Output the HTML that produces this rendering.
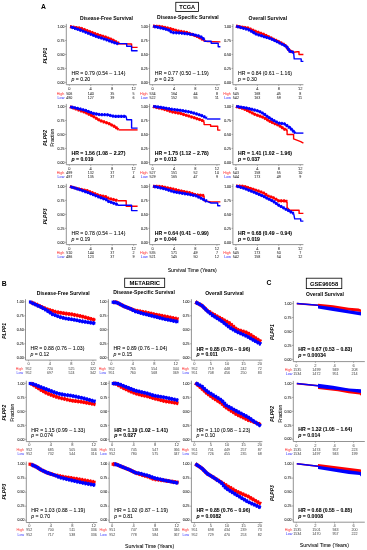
<!DOCTYPE html>
<html><head><meta charset="utf-8"><style>
html,body{margin:0;padding:0;background:#fff;}
body{width:367px;height:550px;overflow:hidden;}
svg{display:block;font-family:'Liberation Sans', sans-serif;filter:blur(0.3px);}
</style></head><body>
<svg width="367" height="550" viewBox="0 0 367 550">
<rect width="367" height="550" fill="#fff"/>
<path d="M66.30 23.90V84.70H136.80" fill="none" stroke="#777" stroke-width="0.8"/>
<path d="M65.00 26.50H66.30M65.00 40.48H66.30M65.00 54.45H66.30M65.00 68.43H66.30M65.00 82.40H66.30M69.30 84.70V85.90M90.74 84.70V85.90M112.18 84.70V85.90M133.62 84.70V85.90" stroke="#777" stroke-width="0.6"/>
<text x="64.40" y="27.73" font-size="3.5" text-anchor="end" fill="#222" stroke="#222" stroke-width="0.07">1.00</text>
<text x="64.40" y="41.70" font-size="3.5" text-anchor="end" fill="#222" stroke="#222" stroke-width="0.07">0.75</text>
<text x="64.40" y="55.68" font-size="3.5" text-anchor="end" fill="#222" stroke="#222" stroke-width="0.07">0.50</text>
<text x="64.40" y="69.65" font-size="3.5" text-anchor="end" fill="#222" stroke="#222" stroke-width="0.07">0.25</text>
<text x="64.40" y="83.62" font-size="3.5" text-anchor="end" fill="#222" stroke="#222" stroke-width="0.07">0.00</text>
<text x="69.30" y="89.80" font-size="4.0" text-anchor="middle" fill="#2a2a2a" stroke="#2a2a2a" stroke-width="0.02">0</text>
<text x="90.74" y="89.80" font-size="4.0" text-anchor="middle" fill="#2a2a2a" stroke="#2a2a2a" stroke-width="0.02">4</text>
<text x="112.18" y="89.80" font-size="4.0" text-anchor="middle" fill="#2a2a2a" stroke="#2a2a2a" stroke-width="0.02">8</text>
<text x="133.62" y="89.80" font-size="4.0" text-anchor="middle" fill="#2a2a2a" stroke="#2a2a2a" stroke-width="0.02">12</text>
<text x="64.30" y="94.70" font-size="3.7" text-anchor="end" fill="#f33" stroke="#f33" stroke-width="0.02">High</text>
<text x="64.30" y="99.00" font-size="3.7" text-anchor="end" fill="#33f" stroke="#33f" stroke-width="0.02">Low</text>
<text x="69.30" y="94.70" font-size="3.7" text-anchor="middle" fill="#2a2a2a" stroke="#2a2a2a" stroke-width="0.02">506</text>
<text x="69.30" y="99.00" font-size="3.7" text-anchor="middle" fill="#2a2a2a" stroke="#2a2a2a" stroke-width="0.02">490</text>
<text x="90.74" y="94.70" font-size="3.7" text-anchor="middle" fill="#2a2a2a" stroke="#2a2a2a" stroke-width="0.02">140</text>
<text x="90.74" y="99.00" font-size="3.7" text-anchor="middle" fill="#2a2a2a" stroke="#2a2a2a" stroke-width="0.02">127</text>
<text x="112.18" y="94.70" font-size="3.7" text-anchor="middle" fill="#2a2a2a" stroke="#2a2a2a" stroke-width="0.02">35</text>
<text x="112.18" y="99.00" font-size="3.7" text-anchor="middle" fill="#2a2a2a" stroke="#2a2a2a" stroke-width="0.02">39</text>
<text x="133.62" y="94.70" font-size="3.7" text-anchor="middle" fill="#2a2a2a" stroke="#2a2a2a" stroke-width="0.02">5</text>
<text x="133.62" y="99.00" font-size="3.7" text-anchor="middle" fill="#2a2a2a" stroke="#2a2a2a" stroke-width="0.02">6</text>
<path d="M70.00 26.60 L81.30 28.40 L96.50 34.20 L106.00 37.30 L111.80 39.50 L116.00 41.80 L119.00 43.50" fill="none" stroke="#ff0000" stroke-width="2.1" stroke-linejoin="round" stroke-linecap="butt"/>
<path d="M70.00 26.60 L81.30 28.40 L96.50 34.20 L106.00 37.30 L111.80 39.50 L116.00 41.80 L119.00 43.50" fill="none" stroke="#ff0000" stroke-width="3.2" stroke-dasharray="1.6 1.2" stroke-dashoffset="0" stroke-linejoin="round" stroke-linecap="butt"/>
<path d="M118.00 43.70 L131.60 44.00 L131.60 47.40 L137.60 47.40" fill="none" stroke="#ff0000" stroke-width="1.4" stroke-linejoin="round" stroke-linecap="butt"/>
<path d="M70.40 26.80 L81.30 30.40 L96.50 36.50 L106.00 39.60 L111.80 41.80 L116.00 43.30 L118.00 43.60" fill="none" stroke="#0000ff" stroke-width="2.1" stroke-linejoin="round" stroke-linecap="butt"/>
<path d="M70.40 26.80 L81.30 30.40 L96.50 36.50 L106.00 39.60 L111.80 41.80 L116.00 43.30 L118.00 43.60" fill="none" stroke="#0000ff" stroke-width="3.2" stroke-dasharray="1.6 1.2" stroke-dashoffset="1.4" stroke-linejoin="round" stroke-linecap="butt"/>
<path d="M118.00 43.60 L126.70 43.60 L126.70 46.30 L131.60 46.30 L131.60 50.70 L137.60 50.70" fill="none" stroke="#0000ff" stroke-width="1.4" stroke-linejoin="round" stroke-linecap="butt"/>
<text x="71.50" y="75.00" font-size="5.15" stroke="#000" stroke-width="0.05">HR = 0.79 (0.54 – 1.14)</text>
<text x="71.50" y="80.80" font-size="5.15" stroke="#000" stroke-width="0.05"><tspan font-style="italic">p</tspan> = 0.20</text>
<text transform="translate(45.00,55.60) rotate(-90)" x="0" y="1.75" font-size="5.0" text-anchor="middle" font-weight="bold" font-style="italic">PLPP1</text>
<path d="M149.60 23.90V84.70H220.10" fill="none" stroke="#777" stroke-width="0.8"/>
<path d="M148.30 26.50H149.60M148.30 40.48H149.60M148.30 54.45H149.60M148.30 68.43H149.60M148.30 82.40H149.60M152.60 84.70V85.90M174.04 84.70V85.90M195.48 84.70V85.90M216.92 84.70V85.90" stroke="#777" stroke-width="0.6"/>
<text x="147.70" y="27.73" font-size="3.5" text-anchor="end" fill="#222" stroke="#222" stroke-width="0.07">1.00</text>
<text x="147.70" y="41.70" font-size="3.5" text-anchor="end" fill="#222" stroke="#222" stroke-width="0.07">0.75</text>
<text x="147.70" y="55.68" font-size="3.5" text-anchor="end" fill="#222" stroke="#222" stroke-width="0.07">0.50</text>
<text x="147.70" y="69.65" font-size="3.5" text-anchor="end" fill="#222" stroke="#222" stroke-width="0.07">0.25</text>
<text x="147.70" y="83.62" font-size="3.5" text-anchor="end" fill="#222" stroke="#222" stroke-width="0.07">0.00</text>
<text x="152.60" y="89.80" font-size="4.0" text-anchor="middle" fill="#2a2a2a" stroke="#2a2a2a" stroke-width="0.02">0</text>
<text x="174.04" y="89.80" font-size="4.0" text-anchor="middle" fill="#2a2a2a" stroke="#2a2a2a" stroke-width="0.02">4</text>
<text x="195.48" y="89.80" font-size="4.0" text-anchor="middle" fill="#2a2a2a" stroke="#2a2a2a" stroke-width="0.02">8</text>
<text x="216.92" y="89.80" font-size="4.0" text-anchor="middle" fill="#2a2a2a" stroke="#2a2a2a" stroke-width="0.02">12</text>
<text x="147.60" y="94.70" font-size="3.7" text-anchor="end" fill="#f33" stroke="#f33" stroke-width="0.02">High</text>
<text x="147.60" y="99.00" font-size="3.7" text-anchor="end" fill="#33f" stroke="#33f" stroke-width="0.02">Low</text>
<text x="152.60" y="94.70" font-size="3.7" text-anchor="middle" fill="#2a2a2a" stroke="#2a2a2a" stroke-width="0.02">534</text>
<text x="152.60" y="99.00" font-size="3.7" text-anchor="middle" fill="#2a2a2a" stroke="#2a2a2a" stroke-width="0.02">522</text>
<text x="174.04" y="94.70" font-size="3.7" text-anchor="middle" fill="#2a2a2a" stroke="#2a2a2a" stroke-width="0.02">164</text>
<text x="174.04" y="99.00" font-size="3.7" text-anchor="middle" fill="#2a2a2a" stroke="#2a2a2a" stroke-width="0.02">152</text>
<text x="195.48" y="94.70" font-size="3.7" text-anchor="middle" fill="#2a2a2a" stroke="#2a2a2a" stroke-width="0.02">44</text>
<text x="195.48" y="99.00" font-size="3.7" text-anchor="middle" fill="#2a2a2a" stroke="#2a2a2a" stroke-width="0.02">55</text>
<text x="216.92" y="94.70" font-size="3.7" text-anchor="middle" fill="#2a2a2a" stroke="#2a2a2a" stroke-width="0.02">8</text>
<text x="216.92" y="99.00" font-size="3.7" text-anchor="middle" fill="#2a2a2a" stroke="#2a2a2a" stroke-width="0.02">11</text>
<path d="M153.00 26.10 L160.90 26.60 L170.70 28.80 L178.30 31.00 L187.00 32.50 L195.90 35.90 L202.40 39.20 L204.60 40.30" fill="none" stroke="#ff0000" stroke-width="2.1" stroke-linejoin="round" stroke-linecap="butt"/>
<path d="M153.00 26.10 L160.90 26.60 L170.70 28.80 L178.30 31.00 L187.00 32.50 L195.90 35.90 L202.40 39.20 L204.60 40.30" fill="none" stroke="#ff0000" stroke-width="3.2" stroke-dasharray="1.6 1.2" stroke-dashoffset="0" stroke-linejoin="round" stroke-linecap="butt"/>
<path d="M204.60 40.30 L206.80 41.50 L220.40 41.90" fill="none" stroke="#ff0000" stroke-width="1.4" stroke-linejoin="round" stroke-linecap="butt"/>
<path d="M153.00 26.30 L165.30 28.90 L169.00 30.20 L172.00 32.50 L180.50 33.00 L192.70 34.50 L198.00 35.80 L201.90 37.30 L204.60 40.00" fill="none" stroke="#0000ff" stroke-width="2.1" stroke-linejoin="round" stroke-linecap="butt"/>
<path d="M153.00 26.30 L165.30 28.90 L169.00 30.20 L172.00 32.50 L180.50 33.00 L192.70 34.50 L198.00 35.80 L201.90 37.30 L204.60 40.00" fill="none" stroke="#0000ff" stroke-width="3.2" stroke-dasharray="1.6 1.2" stroke-dashoffset="1.4" stroke-linejoin="round" stroke-linecap="butt"/>
<path d="M204.60 40.50 L204.60 41.30 L211.20 41.30 L211.20 43.20 L218.20 43.20 L218.20 46.80 L220.40 46.80" fill="none" stroke="#0000ff" stroke-width="1.4" stroke-linejoin="round" stroke-linecap="butt"/>
<text x="154.80" y="75.00" font-size="5.15" stroke="#000" stroke-width="0.05">HR = 0.77 (0.50 – 1.19)</text>
<text x="154.80" y="80.80" font-size="5.15" stroke="#000" stroke-width="0.05"><tspan font-style="italic">p</tspan> = 0.23</text>
<path d="M232.90 23.90V84.70H303.40" fill="none" stroke="#777" stroke-width="0.8"/>
<path d="M231.60 26.50H232.90M231.60 40.48H232.90M231.60 54.45H232.90M231.60 68.43H232.90M231.60 82.40H232.90M235.90 84.70V85.90M257.34 84.70V85.90M278.78 84.70V85.90M300.22 84.70V85.90" stroke="#777" stroke-width="0.6"/>
<text x="231.00" y="27.73" font-size="3.5" text-anchor="end" fill="#222" stroke="#222" stroke-width="0.07">1.00</text>
<text x="231.00" y="41.70" font-size="3.5" text-anchor="end" fill="#222" stroke="#222" stroke-width="0.07">0.75</text>
<text x="231.00" y="55.68" font-size="3.5" text-anchor="end" fill="#222" stroke="#222" stroke-width="0.07">0.50</text>
<text x="231.00" y="69.65" font-size="3.5" text-anchor="end" fill="#222" stroke="#222" stroke-width="0.07">0.25</text>
<text x="231.00" y="83.62" font-size="3.5" text-anchor="end" fill="#222" stroke="#222" stroke-width="0.07">0.00</text>
<text x="235.90" y="89.80" font-size="4.0" text-anchor="middle" fill="#2a2a2a" stroke="#2a2a2a" stroke-width="0.02">0</text>
<text x="257.34" y="89.80" font-size="4.0" text-anchor="middle" fill="#2a2a2a" stroke="#2a2a2a" stroke-width="0.02">4</text>
<text x="278.78" y="89.80" font-size="4.0" text-anchor="middle" fill="#2a2a2a" stroke="#2a2a2a" stroke-width="0.02">8</text>
<text x="300.22" y="89.80" font-size="4.0" text-anchor="middle" fill="#2a2a2a" stroke="#2a2a2a" stroke-width="0.02">12</text>
<text x="230.90" y="94.70" font-size="3.7" text-anchor="end" fill="#f33" stroke="#f33" stroke-width="0.02">High</text>
<text x="230.90" y="99.00" font-size="3.7" text-anchor="end" fill="#33f" stroke="#33f" stroke-width="0.02">Low</text>
<text x="235.90" y="94.70" font-size="3.7" text-anchor="middle" fill="#2a2a2a" stroke="#2a2a2a" stroke-width="0.02">545</text>
<text x="235.90" y="99.00" font-size="3.7" text-anchor="middle" fill="#2a2a2a" stroke="#2a2a2a" stroke-width="0.02">542</text>
<text x="257.34" y="94.70" font-size="3.7" text-anchor="middle" fill="#2a2a2a" stroke="#2a2a2a" stroke-width="0.02">168</text>
<text x="257.34" y="99.00" font-size="3.7" text-anchor="middle" fill="#2a2a2a" stroke="#2a2a2a" stroke-width="0.02">163</text>
<text x="278.78" y="94.70" font-size="3.7" text-anchor="middle" fill="#2a2a2a" stroke="#2a2a2a" stroke-width="0.02">45</text>
<text x="278.78" y="99.00" font-size="3.7" text-anchor="middle" fill="#2a2a2a" stroke="#2a2a2a" stroke-width="0.02">59</text>
<text x="300.22" y="94.70" font-size="3.7" text-anchor="middle" fill="#2a2a2a" stroke="#2a2a2a" stroke-width="0.02">8</text>
<text x="300.22" y="99.00" font-size="3.7" text-anchor="middle" fill="#2a2a2a" stroke="#2a2a2a" stroke-width="0.02">11</text>
<path d="M236.00 26.10 L248.30 28.10 L255.90 31.50 L263.50 34.20 L271.10 38.00 L278.80 41.80 L284.90 44.90 L289.80 51.00 L293.60 52.30" fill="none" stroke="#ff0000" stroke-width="2.1" stroke-linejoin="round" stroke-linecap="butt"/>
<path d="M236.00 26.10 L248.30 28.10 L255.90 31.50 L263.50 34.20 L271.10 38.00 L278.80 41.80 L284.90 44.90 L289.80 51.00 L293.60 52.30" fill="none" stroke="#ff0000" stroke-width="3.2" stroke-dasharray="1.6 1.2" stroke-dashoffset="0" stroke-linejoin="round" stroke-linecap="butt"/>
<path d="M293.60 52.30 L297.40 51.80 L299.00 51.80 L299.00 54.50 L303.40 54.50" fill="none" stroke="#ff0000" stroke-width="1.4" stroke-linejoin="round" stroke-linecap="butt"/>
<path d="M236.00 26.30 L248.30 29.60 L252.00 31.50 L255.90 34.00 L263.50 36.50 L271.10 38.80 L278.80 42.60 L286.40 46.40 L289.80 51.30 L293.60 52.30" fill="none" stroke="#0000ff" stroke-width="2.1" stroke-linejoin="round" stroke-linecap="butt"/>
<path d="M236.00 26.30 L248.30 29.60 L252.00 31.50 L255.90 34.00 L263.50 36.50 L271.10 38.80 L278.80 42.60 L286.40 46.40 L289.80 51.30 L293.60 52.30" fill="none" stroke="#0000ff" stroke-width="3.2" stroke-dasharray="1.6 1.2" stroke-dashoffset="1.4" stroke-linejoin="round" stroke-linecap="butt"/>
<path d="M293.60 52.30 L294.20 58.90 L301.20 58.90 L301.20 61.40 L303.40 61.40" fill="none" stroke="#0000ff" stroke-width="1.4" stroke-linejoin="round" stroke-linecap="butt"/>
<text x="238.10" y="75.00" font-size="5.15" stroke="#000" stroke-width="0.05">HR = 0.84 (0.61 – 1.16)</text>
<text x="238.10" y="80.80" font-size="5.15" stroke="#000" stroke-width="0.05"><tspan font-style="italic">p</tspan> = 0.30</text>
<path d="M66.30 103.90V164.70H136.80" fill="none" stroke="#777" stroke-width="0.8"/>
<path d="M65.00 106.50H66.30M65.00 120.47H66.30M65.00 134.45H66.30M65.00 148.43H66.30M65.00 162.40H66.30M69.30 164.70V165.90M90.74 164.70V165.90M112.18 164.70V165.90M133.62 164.70V165.90" stroke="#777" stroke-width="0.6"/>
<text x="64.40" y="107.72" font-size="3.5" text-anchor="end" fill="#222" stroke="#222" stroke-width="0.07">1.00</text>
<text x="64.40" y="121.70" font-size="3.5" text-anchor="end" fill="#222" stroke="#222" stroke-width="0.07">0.75</text>
<text x="64.40" y="135.67" font-size="3.5" text-anchor="end" fill="#222" stroke="#222" stroke-width="0.07">0.50</text>
<text x="64.40" y="149.65" font-size="3.5" text-anchor="end" fill="#222" stroke="#222" stroke-width="0.07">0.25</text>
<text x="64.40" y="163.62" font-size="3.5" text-anchor="end" fill="#222" stroke="#222" stroke-width="0.07">0.00</text>
<text x="69.30" y="169.70" font-size="4.0" text-anchor="middle" fill="#2a2a2a" stroke="#2a2a2a" stroke-width="0.02">0</text>
<text x="90.74" y="169.70" font-size="4.0" text-anchor="middle" fill="#2a2a2a" stroke="#2a2a2a" stroke-width="0.02">4</text>
<text x="112.18" y="169.70" font-size="4.0" text-anchor="middle" fill="#2a2a2a" stroke="#2a2a2a" stroke-width="0.02">8</text>
<text x="133.62" y="169.70" font-size="4.0" text-anchor="middle" fill="#2a2a2a" stroke="#2a2a2a" stroke-width="0.02">12</text>
<text x="64.30" y="173.50" font-size="3.7" text-anchor="end" fill="#f33" stroke="#f33" stroke-width="0.02">High</text>
<text x="64.30" y="178.00" font-size="3.7" text-anchor="end" fill="#33f" stroke="#33f" stroke-width="0.02">Low</text>
<text x="69.30" y="173.50" font-size="3.7" text-anchor="middle" fill="#2a2a2a" stroke="#2a2a2a" stroke-width="0.02">499</text>
<text x="69.30" y="178.00" font-size="3.7" text-anchor="middle" fill="#2a2a2a" stroke="#2a2a2a" stroke-width="0.02">497</text>
<text x="90.74" y="173.50" font-size="3.7" text-anchor="middle" fill="#2a2a2a" stroke="#2a2a2a" stroke-width="0.02">132</text>
<text x="90.74" y="178.00" font-size="3.7" text-anchor="middle" fill="#2a2a2a" stroke="#2a2a2a" stroke-width="0.02">135</text>
<text x="112.18" y="173.50" font-size="3.7" text-anchor="middle" fill="#2a2a2a" stroke="#2a2a2a" stroke-width="0.02">37</text>
<text x="112.18" y="178.00" font-size="3.7" text-anchor="middle" fill="#2a2a2a" stroke="#2a2a2a" stroke-width="0.02">37</text>
<text x="133.62" y="173.50" font-size="3.7" text-anchor="middle" fill="#2a2a2a" stroke="#2a2a2a" stroke-width="0.02">7</text>
<text x="133.62" y="178.00" font-size="3.7" text-anchor="middle" fill="#2a2a2a" stroke="#2a2a2a" stroke-width="0.02">4</text>
<path d="M70.00 106.80 L76.90 109.30 L85.60 112.50 L93.20 116.30 L100.00 120.60 L108.70 123.50 L114.20 126.30 L118.50 129.30" fill="none" stroke="#ff0000" stroke-width="2.1" stroke-linejoin="round" stroke-linecap="butt"/>
<path d="M70.00 106.80 L76.90 109.30 L85.60 112.50 L93.20 116.30 L100.00 120.60 L108.70 123.50 L114.20 126.30 L118.50 129.30" fill="none" stroke="#ff0000" stroke-width="3.2" stroke-dasharray="1.6 1.2" stroke-dashoffset="0" stroke-linejoin="round" stroke-linecap="butt"/>
<path d="M118.50 129.90 L137.60 129.90" fill="none" stroke="#ff0000" stroke-width="1.4" stroke-linejoin="round" stroke-linecap="butt"/>
<path d="M70.00 106.80 L76.90 108.20 L85.60 110.40 L93.20 113.40 L100.00 114.60 L107.60 114.80 L114.20 116.40 L126.20 116.40" fill="none" stroke="#0000ff" stroke-width="2.1" stroke-linejoin="round" stroke-linecap="butt"/>
<path d="M70.00 106.80 L76.90 108.20 L85.60 110.40 L93.20 113.40 L100.00 114.60 L107.60 114.80 L114.20 116.40 L126.20 116.40" fill="none" stroke="#0000ff" stroke-width="3.2" stroke-dasharray="1.6 1.2" stroke-dashoffset="1.4" stroke-linejoin="round" stroke-linecap="butt"/>
<path d="M126.20 116.40 L126.70 119.70 L131.60 119.70 L131.60 128.10 L137.60 128.10" fill="none" stroke="#0000ff" stroke-width="1.4" stroke-linejoin="round" stroke-linecap="butt"/>
<text x="71.50" y="155.00" font-size="5.15" font-weight="bold" stroke="#000" stroke-width="0.05">HR = 1.56 (1.08 – 2.27)</text>
<text x="71.50" y="160.80" font-size="5.15" font-weight="bold" stroke="#000" stroke-width="0.05"><tspan font-style="italic">p</tspan> = 0.019</text>
<text transform="translate(45.00,137.80) rotate(-90)" x="0" y="1.75" font-size="5.0" text-anchor="middle" font-weight="bold" font-style="italic">PLPP2</text>
<text transform="translate(52.60,137.80) rotate(-90)" x="0" y="1.75" font-size="5.0" text-anchor="middle" stroke="#000" stroke-width="0.05">Fraction</text>
<path d="M149.60 103.90V164.70H220.10" fill="none" stroke="#777" stroke-width="0.8"/>
<path d="M148.30 106.50H149.60M148.30 120.47H149.60M148.30 134.45H149.60M148.30 148.43H149.60M148.30 162.40H149.60M152.60 164.70V165.90M174.04 164.70V165.90M195.48 164.70V165.90M216.92 164.70V165.90" stroke="#777" stroke-width="0.6"/>
<text x="147.70" y="107.72" font-size="3.5" text-anchor="end" fill="#222" stroke="#222" stroke-width="0.07">1.00</text>
<text x="147.70" y="121.70" font-size="3.5" text-anchor="end" fill="#222" stroke="#222" stroke-width="0.07">0.75</text>
<text x="147.70" y="135.67" font-size="3.5" text-anchor="end" fill="#222" stroke="#222" stroke-width="0.07">0.50</text>
<text x="147.70" y="149.65" font-size="3.5" text-anchor="end" fill="#222" stroke="#222" stroke-width="0.07">0.25</text>
<text x="147.70" y="163.62" font-size="3.5" text-anchor="end" fill="#222" stroke="#222" stroke-width="0.07">0.00</text>
<text x="152.60" y="169.70" font-size="4.0" text-anchor="middle" fill="#2a2a2a" stroke="#2a2a2a" stroke-width="0.02">0</text>
<text x="174.04" y="169.70" font-size="4.0" text-anchor="middle" fill="#2a2a2a" stroke="#2a2a2a" stroke-width="0.02">4</text>
<text x="195.48" y="169.70" font-size="4.0" text-anchor="middle" fill="#2a2a2a" stroke="#2a2a2a" stroke-width="0.02">8</text>
<text x="216.92" y="169.70" font-size="4.0" text-anchor="middle" fill="#2a2a2a" stroke="#2a2a2a" stroke-width="0.02">12</text>
<text x="147.60" y="173.50" font-size="3.7" text-anchor="end" fill="#f33" stroke="#f33" stroke-width="0.02">High</text>
<text x="147.60" y="178.00" font-size="3.7" text-anchor="end" fill="#33f" stroke="#33f" stroke-width="0.02">Low</text>
<text x="152.60" y="173.50" font-size="3.7" text-anchor="middle" fill="#2a2a2a" stroke="#2a2a2a" stroke-width="0.02">527</text>
<text x="152.60" y="178.00" font-size="3.7" text-anchor="middle" fill="#2a2a2a" stroke="#2a2a2a" stroke-width="0.02">529</text>
<text x="174.04" y="173.50" font-size="3.7" text-anchor="middle" fill="#2a2a2a" stroke="#2a2a2a" stroke-width="0.02">151</text>
<text x="174.04" y="178.00" font-size="3.7" text-anchor="middle" fill="#2a2a2a" stroke="#2a2a2a" stroke-width="0.02">165</text>
<text x="195.48" y="173.50" font-size="3.7" text-anchor="middle" fill="#2a2a2a" stroke="#2a2a2a" stroke-width="0.02">52</text>
<text x="195.48" y="178.00" font-size="3.7" text-anchor="middle" fill="#2a2a2a" stroke="#2a2a2a" stroke-width="0.02">47</text>
<text x="216.92" y="173.50" font-size="3.7" text-anchor="middle" fill="#2a2a2a" stroke="#2a2a2a" stroke-width="0.02">10</text>
<text x="216.92" y="178.00" font-size="3.7" text-anchor="middle" fill="#2a2a2a" stroke="#2a2a2a" stroke-width="0.02">9</text>
<path d="M153.00 106.50 L165.30 109.60 L171.80 111.80 L180.50 113.40 L192.70 117.30 L201.90 120.30 L204.10 121.50" fill="none" stroke="#ff0000" stroke-width="2.1" stroke-linejoin="round" stroke-linecap="butt"/>
<path d="M153.00 106.50 L165.30 109.60 L171.80 111.80 L180.50 113.40 L192.70 117.30 L201.90 120.30 L204.10 121.50" fill="none" stroke="#ff0000" stroke-width="3.2" stroke-dasharray="1.6 1.2" stroke-dashoffset="0" stroke-linejoin="round" stroke-linecap="butt"/>
<path d="M204.10 121.50 L204.10 124.60 L210.60 124.60 L210.60 126.30 L217.70 126.30 L217.70 130.10 L220.40 130.10" fill="none" stroke="#ff0000" stroke-width="1.4" stroke-linejoin="round" stroke-linecap="butt"/>
<path d="M153.00 106.30 L160.90 107.40 L171.80 109.30 L180.50 110.40 L190.00 112.00 L195.90 113.70 L201.30 115.40 L206.80 118.10" fill="none" stroke="#0000ff" stroke-width="2.1" stroke-linejoin="round" stroke-linecap="butt"/>
<path d="M153.00 106.30 L160.90 107.40 L171.80 109.30 L180.50 110.40 L190.00 112.00 L195.90 113.70 L201.30 115.40 L206.80 118.10" fill="none" stroke="#0000ff" stroke-width="3.2" stroke-dasharray="1.6 1.2" stroke-dashoffset="1.4" stroke-linejoin="round" stroke-linecap="butt"/>
<path d="M206.80 119.00 L220.40 119.00" fill="none" stroke="#0000ff" stroke-width="1.4" stroke-linejoin="round" stroke-linecap="butt"/>
<text x="154.80" y="155.00" font-size="5.15" font-weight="bold" stroke="#000" stroke-width="0.05">HR = 1.75 (1.12 – 2.78)</text>
<text x="154.80" y="160.80" font-size="5.15" font-weight="bold" stroke="#000" stroke-width="0.05"><tspan font-style="italic">p</tspan> = 0.013</text>
<path d="M232.90 103.90V164.70H303.40" fill="none" stroke="#777" stroke-width="0.8"/>
<path d="M231.60 106.50H232.90M231.60 120.47H232.90M231.60 134.45H232.90M231.60 148.43H232.90M231.60 162.40H232.90M235.90 164.70V165.90M257.34 164.70V165.90M278.78 164.70V165.90M300.22 164.70V165.90" stroke="#777" stroke-width="0.6"/>
<text x="231.00" y="107.72" font-size="3.5" text-anchor="end" fill="#222" stroke="#222" stroke-width="0.07">1.00</text>
<text x="231.00" y="121.70" font-size="3.5" text-anchor="end" fill="#222" stroke="#222" stroke-width="0.07">0.75</text>
<text x="231.00" y="135.67" font-size="3.5" text-anchor="end" fill="#222" stroke="#222" stroke-width="0.07">0.50</text>
<text x="231.00" y="149.65" font-size="3.5" text-anchor="end" fill="#222" stroke="#222" stroke-width="0.07">0.25</text>
<text x="231.00" y="163.62" font-size="3.5" text-anchor="end" fill="#222" stroke="#222" stroke-width="0.07">0.00</text>
<text x="235.90" y="169.70" font-size="4.0" text-anchor="middle" fill="#2a2a2a" stroke="#2a2a2a" stroke-width="0.02">0</text>
<text x="257.34" y="169.70" font-size="4.0" text-anchor="middle" fill="#2a2a2a" stroke="#2a2a2a" stroke-width="0.02">4</text>
<text x="278.78" y="169.70" font-size="4.0" text-anchor="middle" fill="#2a2a2a" stroke="#2a2a2a" stroke-width="0.02">8</text>
<text x="300.22" y="169.70" font-size="4.0" text-anchor="middle" fill="#2a2a2a" stroke="#2a2a2a" stroke-width="0.02">12</text>
<text x="230.90" y="173.50" font-size="3.7" text-anchor="end" fill="#f33" stroke="#f33" stroke-width="0.02">High</text>
<text x="230.90" y="178.00" font-size="3.7" text-anchor="end" fill="#33f" stroke="#33f" stroke-width="0.02">Low</text>
<text x="235.90" y="173.50" font-size="3.7" text-anchor="middle" fill="#2a2a2a" stroke="#2a2a2a" stroke-width="0.02">543</text>
<text x="235.90" y="178.00" font-size="3.7" text-anchor="middle" fill="#2a2a2a" stroke="#2a2a2a" stroke-width="0.02">544</text>
<text x="257.34" y="173.50" font-size="3.7" text-anchor="middle" fill="#2a2a2a" stroke="#2a2a2a" stroke-width="0.02">158</text>
<text x="257.34" y="178.00" font-size="3.7" text-anchor="middle" fill="#2a2a2a" stroke="#2a2a2a" stroke-width="0.02">173</text>
<text x="278.78" y="173.50" font-size="3.7" text-anchor="middle" fill="#2a2a2a" stroke="#2a2a2a" stroke-width="0.02">55</text>
<text x="278.78" y="178.00" font-size="3.7" text-anchor="middle" fill="#2a2a2a" stroke="#2a2a2a" stroke-width="0.02">49</text>
<text x="300.22" y="173.50" font-size="3.7" text-anchor="middle" fill="#2a2a2a" stroke="#2a2a2a" stroke-width="0.02">10</text>
<text x="300.22" y="178.00" font-size="3.7" text-anchor="middle" fill="#2a2a2a" stroke="#2a2a2a" stroke-width="0.02">9</text>
<path d="M236.00 106.50 L243.90 108.70 L254.80 114.20 L263.50 117.40 L268.00 120.20 L273.40 123.10 L278.90 125.30 L284.30 129.10 L287.10 130.00" fill="none" stroke="#ff0000" stroke-width="2.1" stroke-linejoin="round" stroke-linecap="butt"/>
<path d="M236.00 106.50 L243.90 108.70 L254.80 114.20 L263.50 117.40 L268.00 120.20 L273.40 123.10 L278.90 125.30 L284.30 129.10 L287.10 130.00" fill="none" stroke="#ff0000" stroke-width="3.2" stroke-dasharray="1.6 1.2" stroke-dashoffset="0" stroke-linejoin="round" stroke-linecap="butt"/>
<path d="M287.10 130.00 L287.10 134.50 L293.60 134.50 L293.60 138.90 L300.70 141.60 L303.40 143.20" fill="none" stroke="#ff0000" stroke-width="1.4" stroke-linejoin="round" stroke-linecap="butt"/>
<path d="M236.00 106.30 L248.30 108.40 L258.90 111.20 L263.50 113.60 L268.00 117.00 L273.40 120.40 L278.90 123.10 L284.30 123.80 L289.80 127.60 L295.20 133.10" fill="none" stroke="#0000ff" stroke-width="2.1" stroke-linejoin="round" stroke-linecap="butt"/>
<path d="M236.00 106.30 L248.30 108.40 L258.90 111.20 L263.50 113.60 L268.00 117.00 L273.40 120.40 L278.90 123.10 L284.30 123.80 L289.80 127.60 L295.20 133.10" fill="none" stroke="#0000ff" stroke-width="3.2" stroke-dasharray="1.6 1.2" stroke-dashoffset="1.4" stroke-linejoin="round" stroke-linecap="butt"/>
<path d="M295.20 133.10 L303.40 133.10" fill="none" stroke="#0000ff" stroke-width="1.4" stroke-linejoin="round" stroke-linecap="butt"/>
<text x="238.10" y="155.00" font-size="5.15" font-weight="bold" stroke="#000" stroke-width="0.05">HR = 1.41 (1.02 – 1.96)</text>
<text x="238.10" y="160.80" font-size="5.15" font-weight="bold" stroke="#000" stroke-width="0.05"><tspan font-style="italic">p</tspan> = 0.037</text>
<path d="M66.30 183.80V244.60H136.80" fill="none" stroke="#777" stroke-width="0.8"/>
<path d="M65.00 186.40H66.30M65.00 200.38H66.30M65.00 214.35H66.30M65.00 228.33H66.30M65.00 242.30H66.30M69.30 244.60V245.80M90.74 244.60V245.80M112.18 244.60V245.80M133.62 244.60V245.80" stroke="#777" stroke-width="0.6"/>
<text x="64.40" y="187.62" font-size="3.5" text-anchor="end" fill="#222" stroke="#222" stroke-width="0.07">1.00</text>
<text x="64.40" y="201.60" font-size="3.5" text-anchor="end" fill="#222" stroke="#222" stroke-width="0.07">0.75</text>
<text x="64.40" y="215.58" font-size="3.5" text-anchor="end" fill="#222" stroke="#222" stroke-width="0.07">0.50</text>
<text x="64.40" y="229.55" font-size="3.5" text-anchor="end" fill="#222" stroke="#222" stroke-width="0.07">0.25</text>
<text x="64.40" y="243.53" font-size="3.5" text-anchor="end" fill="#222" stroke="#222" stroke-width="0.07">0.00</text>
<text x="69.30" y="249.70" font-size="4.0" text-anchor="middle" fill="#2a2a2a" stroke="#2a2a2a" stroke-width="0.02">0</text>
<text x="90.74" y="249.70" font-size="4.0" text-anchor="middle" fill="#2a2a2a" stroke="#2a2a2a" stroke-width="0.02">4</text>
<text x="112.18" y="249.70" font-size="4.0" text-anchor="middle" fill="#2a2a2a" stroke="#2a2a2a" stroke-width="0.02">8</text>
<text x="133.62" y="249.70" font-size="4.0" text-anchor="middle" fill="#2a2a2a" stroke="#2a2a2a" stroke-width="0.02">12</text>
<text x="64.30" y="253.69" font-size="3.7" text-anchor="end" fill="#f33" stroke="#f33" stroke-width="0.02">High</text>
<text x="64.30" y="258.30" font-size="3.7" text-anchor="end" fill="#33f" stroke="#33f" stroke-width="0.02">Low</text>
<text x="69.30" y="253.69" font-size="3.7" text-anchor="middle" fill="#2a2a2a" stroke="#2a2a2a" stroke-width="0.02">510</text>
<text x="69.30" y="258.30" font-size="3.7" text-anchor="middle" fill="#2a2a2a" stroke="#2a2a2a" stroke-width="0.02">486</text>
<text x="90.74" y="253.69" font-size="3.7" text-anchor="middle" fill="#2a2a2a" stroke="#2a2a2a" stroke-width="0.02">144</text>
<text x="90.74" y="258.30" font-size="3.7" text-anchor="middle" fill="#2a2a2a" stroke="#2a2a2a" stroke-width="0.02">123</text>
<text x="112.18" y="253.69" font-size="3.7" text-anchor="middle" fill="#2a2a2a" stroke="#2a2a2a" stroke-width="0.02">37</text>
<text x="112.18" y="258.30" font-size="3.7" text-anchor="middle" fill="#2a2a2a" stroke="#2a2a2a" stroke-width="0.02">37</text>
<text x="133.62" y="253.69" font-size="3.7" text-anchor="middle" fill="#2a2a2a" stroke="#2a2a2a" stroke-width="0.02">2</text>
<text x="133.62" y="258.30" font-size="3.7" text-anchor="middle" fill="#2a2a2a" stroke="#2a2a2a" stroke-width="0.02">9</text>
<path d="M70.00 186.50 L76.90 188.50 L87.80 190.90 L98.70 195.30 L106.00 196.90 L108.70 198.40 L116.30 200.30 L117.40 200.80" fill="none" stroke="#ff0000" stroke-width="2.1" stroke-linejoin="round" stroke-linecap="butt"/>
<path d="M70.00 186.50 L76.90 188.50 L87.80 190.90 L98.70 195.30 L106.00 196.90 L108.70 198.40 L116.30 200.30 L117.40 200.80" fill="none" stroke="#ff0000" stroke-width="3.2" stroke-dasharray="1.6 1.2" stroke-dashoffset="0" stroke-linejoin="round" stroke-linecap="butt"/>
<path d="M117.40 200.80 L126.20 200.80 L126.20 206.30 L137.60 206.30" fill="none" stroke="#ff0000" stroke-width="1.4" stroke-linejoin="round" stroke-linecap="butt"/>
<path d="M70.00 186.50 L76.90 188.70 L87.80 192.50 L98.70 196.90 L106.00 199.60 L108.70 201.50 L116.30 204.10 L118.00 205.20" fill="none" stroke="#0000ff" stroke-width="2.1" stroke-linejoin="round" stroke-linecap="butt"/>
<path d="M70.00 186.50 L76.90 188.70 L87.80 192.50 L98.70 196.90 L106.00 199.60 L108.70 201.50 L116.30 204.10 L118.00 205.20" fill="none" stroke="#0000ff" stroke-width="3.2" stroke-dasharray="1.6 1.2" stroke-dashoffset="1.4" stroke-linejoin="round" stroke-linecap="butt"/>
<path d="M118.00 205.20 L131.60 205.20 L131.60 210.60 L137.60 210.60" fill="none" stroke="#0000ff" stroke-width="1.4" stroke-linejoin="round" stroke-linecap="butt"/>
<text x="71.50" y="234.90" font-size="5.15" stroke="#000" stroke-width="0.05">HR = 0.78 (0.54 – 1.14)</text>
<text x="71.50" y="240.70" font-size="5.15" stroke="#000" stroke-width="0.05"><tspan font-style="italic">p</tspan> = 0.19</text>
<text transform="translate(45.00,216.40) rotate(-90)" x="0" y="1.75" font-size="5.0" text-anchor="middle" font-weight="bold" font-style="italic">PLPP3</text>
<path d="M149.60 183.80V244.60H220.10" fill="none" stroke="#777" stroke-width="0.8"/>
<path d="M148.30 186.40H149.60M148.30 200.38H149.60M148.30 214.35H149.60M148.30 228.33H149.60M148.30 242.30H149.60M152.60 244.60V245.80M174.04 244.60V245.80M195.48 244.60V245.80M216.92 244.60V245.80" stroke="#777" stroke-width="0.6"/>
<text x="147.70" y="187.62" font-size="3.5" text-anchor="end" fill="#222" stroke="#222" stroke-width="0.07">1.00</text>
<text x="147.70" y="201.60" font-size="3.5" text-anchor="end" fill="#222" stroke="#222" stroke-width="0.07">0.75</text>
<text x="147.70" y="215.58" font-size="3.5" text-anchor="end" fill="#222" stroke="#222" stroke-width="0.07">0.50</text>
<text x="147.70" y="229.55" font-size="3.5" text-anchor="end" fill="#222" stroke="#222" stroke-width="0.07">0.25</text>
<text x="147.70" y="243.53" font-size="3.5" text-anchor="end" fill="#222" stroke="#222" stroke-width="0.07">0.00</text>
<text x="152.60" y="249.70" font-size="4.0" text-anchor="middle" fill="#2a2a2a" stroke="#2a2a2a" stroke-width="0.02">0</text>
<text x="174.04" y="249.70" font-size="4.0" text-anchor="middle" fill="#2a2a2a" stroke="#2a2a2a" stroke-width="0.02">4</text>
<text x="195.48" y="249.70" font-size="4.0" text-anchor="middle" fill="#2a2a2a" stroke="#2a2a2a" stroke-width="0.02">8</text>
<text x="216.92" y="249.70" font-size="4.0" text-anchor="middle" fill="#2a2a2a" stroke="#2a2a2a" stroke-width="0.02">12</text>
<text x="147.60" y="253.69" font-size="3.7" text-anchor="end" fill="#f33" stroke="#f33" stroke-width="0.02">High</text>
<text x="147.60" y="258.30" font-size="3.7" text-anchor="end" fill="#33f" stroke="#33f" stroke-width="0.02">Low</text>
<text x="152.60" y="253.69" font-size="3.7" text-anchor="middle" fill="#2a2a2a" stroke="#2a2a2a" stroke-width="0.02">535</text>
<text x="152.60" y="258.30" font-size="3.7" text-anchor="middle" fill="#2a2a2a" stroke="#2a2a2a" stroke-width="0.02">521</text>
<text x="174.04" y="253.69" font-size="3.7" text-anchor="middle" fill="#2a2a2a" stroke="#2a2a2a" stroke-width="0.02">171</text>
<text x="174.04" y="258.30" font-size="3.7" text-anchor="middle" fill="#2a2a2a" stroke="#2a2a2a" stroke-width="0.02">145</text>
<text x="195.48" y="253.69" font-size="3.7" text-anchor="middle" fill="#2a2a2a" stroke="#2a2a2a" stroke-width="0.02">49</text>
<text x="195.48" y="258.30" font-size="3.7" text-anchor="middle" fill="#2a2a2a" stroke="#2a2a2a" stroke-width="0.02">50</text>
<text x="216.92" y="253.69" font-size="3.7" text-anchor="middle" fill="#2a2a2a" stroke="#2a2a2a" stroke-width="0.02">7</text>
<text x="216.92" y="258.30" font-size="3.7" text-anchor="middle" fill="#2a2a2a" stroke="#2a2a2a" stroke-width="0.02">12</text>
<path d="M153.00 186.30 L160.90 186.50 L171.80 188.70 L180.50 190.90 L190.00 192.90 L195.90 194.80 L202.40 195.40 L204.10 195.60" fill="none" stroke="#ff0000" stroke-width="2.1" stroke-linejoin="round" stroke-linecap="butt"/>
<path d="M153.00 186.30 L160.90 186.50 L171.80 188.70 L180.50 190.90 L190.00 192.90 L195.90 194.80 L202.40 195.40 L204.10 195.60" fill="none" stroke="#ff0000" stroke-width="3.2" stroke-dasharray="1.6 1.2" stroke-dashoffset="0" stroke-linejoin="round" stroke-linecap="butt"/>
<path d="M204.10 195.60 L204.10 200.80 L211.00 201.90 L220.40 201.90" fill="none" stroke="#ff0000" stroke-width="1.4" stroke-linejoin="round" stroke-linecap="butt"/>
<path d="M153.00 186.30 L165.30 188.90 L172.90 191.60 L188.10 194.20 L195.80 195.70 L201.90 198.60 L206.80 201.30" fill="none" stroke="#0000ff" stroke-width="2.1" stroke-linejoin="round" stroke-linecap="butt"/>
<path d="M153.00 186.30 L165.30 188.90 L172.90 191.60 L188.10 194.20 L195.80 195.70 L201.90 198.60 L206.80 201.30" fill="none" stroke="#0000ff" stroke-width="3.2" stroke-dasharray="1.6 1.2" stroke-dashoffset="1.4" stroke-linejoin="round" stroke-linecap="butt"/>
<path d="M206.80 201.30 L211.20 203.00 L217.70 203.00 L217.70 205.70 L220.40 205.70" fill="none" stroke="#0000ff" stroke-width="1.4" stroke-linejoin="round" stroke-linecap="butt"/>
<text x="154.80" y="234.90" font-size="5.15" font-weight="bold" stroke="#000" stroke-width="0.05">HR = 0.64 (0.41 – 0.99)</text>
<text x="154.80" y="240.70" font-size="5.15" font-weight="bold" stroke="#000" stroke-width="0.05"><tspan font-style="italic">p</tspan> = 0.044</text>
<path d="M232.90 183.80V244.60H303.40" fill="none" stroke="#777" stroke-width="0.8"/>
<path d="M231.60 186.40H232.90M231.60 200.38H232.90M231.60 214.35H232.90M231.60 228.33H232.90M231.60 242.30H232.90M235.90 244.60V245.80M257.34 244.60V245.80M278.78 244.60V245.80M300.22 244.60V245.80" stroke="#777" stroke-width="0.6"/>
<text x="231.00" y="187.62" font-size="3.5" text-anchor="end" fill="#222" stroke="#222" stroke-width="0.07">1.00</text>
<text x="231.00" y="201.60" font-size="3.5" text-anchor="end" fill="#222" stroke="#222" stroke-width="0.07">0.75</text>
<text x="231.00" y="215.58" font-size="3.5" text-anchor="end" fill="#222" stroke="#222" stroke-width="0.07">0.50</text>
<text x="231.00" y="229.55" font-size="3.5" text-anchor="end" fill="#222" stroke="#222" stroke-width="0.07">0.25</text>
<text x="231.00" y="243.53" font-size="3.5" text-anchor="end" fill="#222" stroke="#222" stroke-width="0.07">0.00</text>
<text x="235.90" y="249.70" font-size="4.0" text-anchor="middle" fill="#2a2a2a" stroke="#2a2a2a" stroke-width="0.02">0</text>
<text x="257.34" y="249.70" font-size="4.0" text-anchor="middle" fill="#2a2a2a" stroke="#2a2a2a" stroke-width="0.02">4</text>
<text x="278.78" y="249.70" font-size="4.0" text-anchor="middle" fill="#2a2a2a" stroke="#2a2a2a" stroke-width="0.02">8</text>
<text x="300.22" y="249.70" font-size="4.0" text-anchor="middle" fill="#2a2a2a" stroke="#2a2a2a" stroke-width="0.02">12</text>
<text x="230.90" y="253.69" font-size="3.7" text-anchor="end" fill="#f33" stroke="#f33" stroke-width="0.02">High</text>
<text x="230.90" y="258.30" font-size="3.7" text-anchor="end" fill="#33f" stroke="#33f" stroke-width="0.02">Low</text>
<text x="235.90" y="253.69" font-size="3.7" text-anchor="middle" fill="#2a2a2a" stroke="#2a2a2a" stroke-width="0.02">545</text>
<text x="235.90" y="258.30" font-size="3.7" text-anchor="middle" fill="#2a2a2a" stroke="#2a2a2a" stroke-width="0.02">542</text>
<text x="257.34" y="253.69" font-size="3.7" text-anchor="middle" fill="#2a2a2a" stroke="#2a2a2a" stroke-width="0.02">173</text>
<text x="257.34" y="258.30" font-size="3.7" text-anchor="middle" fill="#2a2a2a" stroke="#2a2a2a" stroke-width="0.02">158</text>
<text x="278.78" y="253.69" font-size="3.7" text-anchor="middle" fill="#2a2a2a" stroke="#2a2a2a" stroke-width="0.02">50</text>
<text x="278.78" y="258.30" font-size="3.7" text-anchor="middle" fill="#2a2a2a" stroke="#2a2a2a" stroke-width="0.02">54</text>
<text x="300.22" y="253.69" font-size="3.7" text-anchor="middle" fill="#2a2a2a" stroke="#2a2a2a" stroke-width="0.02">7</text>
<text x="300.22" y="258.30" font-size="3.7" text-anchor="middle" fill="#2a2a2a" stroke="#2a2a2a" stroke-width="0.02">12</text>
<path d="M236.00 186.00 L243.90 186.30 L254.80 189.80 L263.50 192.90 L268.00 196.00 L273.00 197.60 L278.90 200.90 L285.40 200.90 L287.10 201.50" fill="none" stroke="#ff0000" stroke-width="2.1" stroke-linejoin="round" stroke-linecap="butt"/>
<path d="M236.00 186.00 L243.90 186.30 L254.80 189.80 L263.50 192.90 L268.00 196.00 L273.00 197.60 L278.90 200.90 L285.40 200.90 L287.10 201.50" fill="none" stroke="#ff0000" stroke-width="3.2" stroke-dasharray="1.6 1.2" stroke-dashoffset="0" stroke-linejoin="round" stroke-linecap="butt"/>
<path d="M287.10 201.50 L287.10 207.40 L289.80 210.20 L299.10 210.20 L299.10 213.40 L303.40 213.40" fill="none" stroke="#ff0000" stroke-width="1.4" stroke-linejoin="round" stroke-linecap="butt"/>
<path d="M236.00 186.00 L243.90 188.20 L254.80 192.50 L263.50 196.30 L268.00 198.70 L273.00 201.10 L278.90 205.30 L289.80 211.30 L293.60 213.40" fill="none" stroke="#0000ff" stroke-width="2.1" stroke-linejoin="round" stroke-linecap="butt"/>
<path d="M236.00 186.00 L243.90 188.20 L254.80 192.50 L263.50 196.30 L268.00 198.70 L273.00 201.10 L278.90 205.30 L289.80 211.30 L293.60 213.40" fill="none" stroke="#0000ff" stroke-width="3.2" stroke-dasharray="1.6 1.2" stroke-dashoffset="1.4" stroke-linejoin="round" stroke-linecap="butt"/>
<path d="M293.60 213.40 L294.70 218.90 L300.70 218.90 L300.70 221.10 L303.40 221.10" fill="none" stroke="#0000ff" stroke-width="1.4" stroke-linejoin="round" stroke-linecap="butt"/>
<text x="238.10" y="234.90" font-size="5.15" font-weight="bold" stroke="#000" stroke-width="0.05">HR = 0.68 (0.49 – 0.94)</text>
<text x="238.10" y="240.70" font-size="5.15" font-weight="bold" stroke="#000" stroke-width="0.05"><tspan font-style="italic">p</tspan> = 0.019</text>
<path d="M25.50 299.20V360.10H96.50" fill="none" stroke="#777" stroke-width="0.8"/>
<path d="M24.20 301.80H25.50M24.20 315.80H25.50M24.20 329.80H25.50M24.20 343.80H25.50M24.20 357.80H25.50M28.50 360.10V361.30M49.98 360.10V361.30M71.46 360.10V361.30M92.94 360.10V361.30" stroke="#777" stroke-width="0.6"/>
<text x="23.60" y="303.03" font-size="3.5" text-anchor="end" fill="#222" stroke="#222" stroke-width="0.07">1.00</text>
<text x="23.60" y="317.03" font-size="3.5" text-anchor="end" fill="#222" stroke="#222" stroke-width="0.07">0.75</text>
<text x="23.60" y="331.03" font-size="3.5" text-anchor="end" fill="#222" stroke="#222" stroke-width="0.07">0.50</text>
<text x="23.60" y="345.03" font-size="3.5" text-anchor="end" fill="#222" stroke="#222" stroke-width="0.07">0.25</text>
<text x="23.60" y="359.03" font-size="3.5" text-anchor="end" fill="#222" stroke="#222" stroke-width="0.07">0.00</text>
<text x="28.50" y="364.80" font-size="4.0" text-anchor="middle" fill="#3a3a3a">0</text>
<text x="49.98" y="364.80" font-size="4.0" text-anchor="middle" fill="#3a3a3a">4</text>
<text x="71.46" y="364.80" font-size="4.0" text-anchor="middle" fill="#3a3a3a">8</text>
<text x="92.94" y="364.80" font-size="4.0" text-anchor="middle" fill="#3a3a3a">12</text>
<text x="23.20" y="370.06" font-size="3.6" text-anchor="end" fill="#f33">High</text>
<text x="23.20" y="374.46" font-size="3.6" text-anchor="end" fill="#33f">Low</text>
<text x="28.50" y="370.06" font-size="3.6" text-anchor="middle" fill="#3a3a3a">952</text>
<text x="28.50" y="374.46" font-size="3.6" text-anchor="middle" fill="#3a3a3a">952</text>
<text x="49.98" y="370.06" font-size="3.6" text-anchor="middle" fill="#3a3a3a">720</text>
<text x="49.98" y="374.46" font-size="3.6" text-anchor="middle" fill="#3a3a3a">697</text>
<text x="71.46" y="370.06" font-size="3.6" text-anchor="middle" fill="#3a3a3a">525</text>
<text x="71.46" y="374.46" font-size="3.6" text-anchor="middle" fill="#3a3a3a">524</text>
<text x="92.94" y="370.06" font-size="3.6" text-anchor="middle" fill="#3a3a3a">322</text>
<text x="92.94" y="374.46" font-size="3.6" text-anchor="middle" fill="#3a3a3a">342</text>
<path d="M31.00 302.30 L35.90 304.20 L41.30 306.90 L46.80 309.10 L55.50 311.80 L65.00 313.50 L70.90 314.20 L81.80 316.30 L95.40 320.20" fill="none" stroke="#ff0000" stroke-width="2.8" stroke-linejoin="round" stroke-linecap="butt"/>
<path d="M31.00 302.30 L35.90 304.20 L41.30 306.90 L46.80 309.10 L55.50 311.80 L65.00 313.50 L70.90 314.20 L81.80 316.30 L95.40 320.20" fill="none" stroke="#ff0000" stroke-width="3.9" stroke-dasharray="1.6 1.2" stroke-dashoffset="0" stroke-linejoin="round" stroke-linecap="butt"/>
<path d="M31.00 302.50 L35.90 304.80 L41.30 307.20 L46.80 310.40 L52.70 314.30 L60.00 317.00 L65.00 318.30 L74.50 319.80 L81.80 321.30 L95.40 323.40" fill="none" stroke="#0000ff" stroke-width="2.8" stroke-linejoin="round" stroke-linecap="butt"/>
<path d="M31.00 302.50 L35.90 304.80 L41.30 307.20 L46.80 310.40 L52.70 314.30 L60.00 317.00 L65.00 318.30 L74.50 319.80 L81.80 321.30 L95.40 323.40" fill="none" stroke="#0000ff" stroke-width="3.9" stroke-dasharray="1.6 1.2" stroke-dashoffset="1.4" stroke-linejoin="round" stroke-linecap="butt"/>
<rect x="28.90" y="300.40" width="2.6" height="3.2" fill="#0000ff"/>
<text x="30.50" y="350.20" font-size="5.15" stroke="#000" stroke-width="0.05">HR = 0.88 (0.76 – 1.03)</text>
<text x="30.50" y="355.80" font-size="5.15" stroke="#000" stroke-width="0.05"><tspan font-style="italic">p</tspan> = 0.12</text>
<text transform="translate(4.40,330.80) rotate(-90)" x="0" y="1.75" font-size="5.0" text-anchor="middle" font-weight="bold" font-style="italic">PLPP1</text>
<path d="M108.40 299.20V360.10H179.40" fill="none" stroke="#777" stroke-width="0.8"/>
<path d="M107.10 301.80H108.40M107.10 315.80H108.40M107.10 329.80H108.40M107.10 343.80H108.40M107.10 357.80H108.40M111.40 360.10V361.30M132.88 360.10V361.30M154.36 360.10V361.30M175.84 360.10V361.30" stroke="#777" stroke-width="0.6"/>
<text x="106.50" y="303.03" font-size="3.5" text-anchor="end" fill="#222" stroke="#222" stroke-width="0.07">1.00</text>
<text x="106.50" y="317.03" font-size="3.5" text-anchor="end" fill="#222" stroke="#222" stroke-width="0.07">0.75</text>
<text x="106.50" y="331.03" font-size="3.5" text-anchor="end" fill="#222" stroke="#222" stroke-width="0.07">0.50</text>
<text x="106.50" y="345.03" font-size="3.5" text-anchor="end" fill="#222" stroke="#222" stroke-width="0.07">0.25</text>
<text x="106.50" y="359.03" font-size="3.5" text-anchor="end" fill="#222" stroke="#222" stroke-width="0.07">0.00</text>
<text x="111.40" y="364.80" font-size="4.0" text-anchor="middle" fill="#3a3a3a">0</text>
<text x="132.88" y="364.80" font-size="4.0" text-anchor="middle" fill="#3a3a3a">4</text>
<text x="154.36" y="364.80" font-size="4.0" text-anchor="middle" fill="#3a3a3a">8</text>
<text x="175.84" y="364.80" font-size="4.0" text-anchor="middle" fill="#3a3a3a">12</text>
<text x="106.10" y="370.06" font-size="3.6" text-anchor="end" fill="#f33">High</text>
<text x="106.10" y="374.46" font-size="3.6" text-anchor="end" fill="#33f">Low</text>
<text x="111.40" y="370.06" font-size="3.6" text-anchor="middle" fill="#3a3a3a">952</text>
<text x="111.40" y="374.46" font-size="3.6" text-anchor="middle" fill="#3a3a3a">951</text>
<text x="132.88" y="370.06" font-size="3.6" text-anchor="middle" fill="#3a3a3a">765</text>
<text x="132.88" y="374.46" font-size="3.6" text-anchor="middle" fill="#3a3a3a">760</text>
<text x="154.36" y="370.06" font-size="3.6" text-anchor="middle" fill="#3a3a3a">554</text>
<text x="154.36" y="374.46" font-size="3.6" text-anchor="middle" fill="#3a3a3a">568</text>
<text x="175.84" y="370.06" font-size="3.6" text-anchor="middle" fill="#3a3a3a">344</text>
<text x="175.84" y="374.46" font-size="3.6" text-anchor="middle" fill="#3a3a3a">369</text>
<path d="M113.00 302.30 L116.20 302.30 L118.90 303.60 L124.30 306.40 L129.80 308.50 L135.20 310.50 L143.00 311.80 L153.90 314.20 L164.80 316.30 L178.40 319.10" fill="none" stroke="#ff0000" stroke-width="2.8" stroke-linejoin="round" stroke-linecap="butt"/>
<path d="M113.00 302.30 L116.20 302.30 L118.90 303.60 L124.30 306.40 L129.80 308.50 L135.20 310.50 L143.00 311.80 L153.90 314.20 L164.80 316.30 L178.40 319.10" fill="none" stroke="#ff0000" stroke-width="3.9" stroke-dasharray="1.6 1.2" stroke-dashoffset="0" stroke-linejoin="round" stroke-linecap="butt"/>
<path d="M113.00 302.30 L116.20 302.30 L118.90 303.60 L124.30 306.40 L129.80 308.50 L135.20 311.30 L143.00 313.60 L153.90 316.30 L164.80 319.10 L178.40 321.80" fill="none" stroke="#0000ff" stroke-width="2.8" stroke-linejoin="round" stroke-linecap="butt"/>
<path d="M113.00 302.30 L116.20 302.30 L118.90 303.60 L124.30 306.40 L129.80 308.50 L135.20 311.30 L143.00 313.60 L153.90 316.30 L164.80 319.10 L178.40 321.80" fill="none" stroke="#0000ff" stroke-width="3.9" stroke-dasharray="1.6 1.2" stroke-dashoffset="1.4" stroke-linejoin="round" stroke-linecap="butt"/>
<rect x="111.60" y="300.60" width="2.6" height="3.2" fill="#0000ff"/>
<text x="113.40" y="350.20" font-size="5.15" stroke="#000" stroke-width="0.05">HR = 0.89 (0.76 – 1.04)</text>
<text x="113.40" y="355.80" font-size="5.15" stroke="#000" stroke-width="0.05"><tspan font-style="italic">p</tspan> = 0.15</text>
<path d="M191.40 299.20V360.10H262.40" fill="none" stroke="#777" stroke-width="0.8"/>
<path d="M190.10 301.80H191.40M190.10 315.80H191.40M190.10 329.80H191.40M190.10 343.80H191.40M190.10 357.80H191.40M194.40 360.10V361.30M210.75 360.10V361.30M227.10 360.10V361.30M243.45 360.10V361.30M259.80 360.10V361.30" stroke="#777" stroke-width="0.6"/>
<text x="189.50" y="303.03" font-size="3.5" text-anchor="end" fill="#222" stroke="#222" stroke-width="0.07">1.00</text>
<text x="189.50" y="317.03" font-size="3.5" text-anchor="end" fill="#222" stroke="#222" stroke-width="0.07">0.75</text>
<text x="189.50" y="331.03" font-size="3.5" text-anchor="end" fill="#222" stroke="#222" stroke-width="0.07">0.50</text>
<text x="189.50" y="345.03" font-size="3.5" text-anchor="end" fill="#222" stroke="#222" stroke-width="0.07">0.25</text>
<text x="189.50" y="359.03" font-size="3.5" text-anchor="end" fill="#222" stroke="#222" stroke-width="0.07">0.00</text>
<text x="194.40" y="364.80" font-size="4.0" text-anchor="middle" fill="#3a3a3a">0</text>
<text x="210.75" y="364.80" font-size="4.0" text-anchor="middle" fill="#3a3a3a">5</text>
<text x="227.10" y="364.80" font-size="4.0" text-anchor="middle" fill="#3a3a3a">10</text>
<text x="243.45" y="364.80" font-size="4.0" text-anchor="middle" fill="#3a3a3a">15</text>
<text x="259.80" y="364.80" font-size="4.0" text-anchor="middle" fill="#3a3a3a">20</text>
<text x="189.10" y="370.06" font-size="3.6" text-anchor="end" fill="#f33">High</text>
<text x="189.10" y="374.46" font-size="3.6" text-anchor="end" fill="#33f">Low</text>
<text x="194.40" y="370.06" font-size="3.6" text-anchor="middle" fill="#3a3a3a">952</text>
<text x="194.40" y="374.46" font-size="3.6" text-anchor="middle" fill="#3a3a3a">951</text>
<text x="210.75" y="370.06" font-size="3.6" text-anchor="middle" fill="#3a3a3a">719</text>
<text x="210.75" y="374.46" font-size="3.6" text-anchor="middle" fill="#3a3a3a">708</text>
<text x="227.10" y="370.06" font-size="3.6" text-anchor="middle" fill="#3a3a3a">448</text>
<text x="227.10" y="374.46" font-size="3.6" text-anchor="middle" fill="#3a3a3a">456</text>
<text x="243.45" y="370.06" font-size="3.6" text-anchor="middle" fill="#3a3a3a">242</text>
<text x="243.45" y="374.46" font-size="3.6" text-anchor="middle" fill="#3a3a3a">250</text>
<text x="259.80" y="370.06" font-size="3.6" text-anchor="middle" fill="#3a3a3a">72</text>
<text x="259.80" y="374.46" font-size="3.6" text-anchor="middle" fill="#3a3a3a">83</text>
<path d="M195.40 302.00 L201.90 305.60 L207.30 310.60 L212.80 314.00 L221.50 318.80 L229.60 323.20 L236.90 329.50 L247.00 332.60 L261.00 341.60" fill="none" stroke="#ff0000" stroke-width="2.8" stroke-linejoin="round" stroke-linecap="butt"/>
<path d="M195.40 302.00 L201.90 305.60 L207.30 310.60 L212.80 314.00 L221.50 318.80 L229.60 323.20 L236.90 329.50 L247.00 332.60 L261.00 341.60" fill="none" stroke="#ff0000" stroke-width="3.9" stroke-dasharray="1.6 1.2" stroke-dashoffset="0" stroke-linejoin="round" stroke-linecap="butt"/>
<path d="M195.40 302.00 L201.90 305.60 L207.30 311.00 L212.80 315.50 L221.50 321.00 L229.60 327.40 L236.90 331.80 L247.00 336.30 L261.00 344.30" fill="none" stroke="#0000ff" stroke-width="2.8" stroke-linejoin="round" stroke-linecap="butt"/>
<path d="M195.40 302.00 L201.90 305.60 L207.30 311.00 L212.80 315.50 L221.50 321.00 L229.60 327.40 L236.90 331.80 L247.00 336.30 L261.00 344.30" fill="none" stroke="#0000ff" stroke-width="3.9" stroke-dasharray="1.6 1.2" stroke-dashoffset="1.4" stroke-linejoin="round" stroke-linecap="butt"/>
<text x="196.40" y="351.00" font-size="5.15" font-weight="bold" stroke="#000" stroke-width="0.05">HR = 0.85 (0.76 – 0.96)</text>
<text x="196.40" y="356.40" font-size="5.15" font-weight="bold" stroke="#000" stroke-width="0.05"><tspan font-style="italic">p</tspan> = 0.011</text>
<path d="M26.30 380.70V441.60H97.30" fill="none" stroke="#777" stroke-width="0.8"/>
<path d="M25.00 383.30H26.30M25.00 397.30H26.30M25.00 411.30H26.30M25.00 425.30H26.30M25.00 439.30H26.30M29.30 441.60V442.80M50.78 441.60V442.80M72.26 441.60V442.80M93.74 441.60V442.80" stroke="#777" stroke-width="0.6"/>
<text x="24.40" y="384.53" font-size="3.5" text-anchor="end" fill="#222" stroke="#222" stroke-width="0.07">1.00</text>
<text x="24.40" y="398.53" font-size="3.5" text-anchor="end" fill="#222" stroke="#222" stroke-width="0.07">0.75</text>
<text x="24.40" y="412.53" font-size="3.5" text-anchor="end" fill="#222" stroke="#222" stroke-width="0.07">0.50</text>
<text x="24.40" y="426.53" font-size="3.5" text-anchor="end" fill="#222" stroke="#222" stroke-width="0.07">0.25</text>
<text x="24.40" y="440.53" font-size="3.5" text-anchor="end" fill="#222" stroke="#222" stroke-width="0.07">0.00</text>
<text x="29.30" y="445.80" font-size="4.0" text-anchor="middle" fill="#3a3a3a">0</text>
<text x="50.78" y="445.80" font-size="4.0" text-anchor="middle" fill="#3a3a3a">4</text>
<text x="72.26" y="445.80" font-size="4.0" text-anchor="middle" fill="#3a3a3a">8</text>
<text x="93.74" y="445.80" font-size="4.0" text-anchor="middle" fill="#3a3a3a">12</text>
<text x="24.00" y="450.56" font-size="3.6" text-anchor="end" fill="#f33">High</text>
<text x="24.00" y="454.96" font-size="3.6" text-anchor="end" fill="#33f">Low</text>
<text x="29.30" y="450.56" font-size="3.6" text-anchor="middle" fill="#3a3a3a">952</text>
<text x="29.30" y="454.96" font-size="3.6" text-anchor="middle" fill="#3a3a3a">952</text>
<text x="50.78" y="450.56" font-size="3.6" text-anchor="middle" fill="#3a3a3a">685</text>
<text x="50.78" y="454.96" font-size="3.6" text-anchor="middle" fill="#3a3a3a">732</text>
<text x="72.26" y="450.56" font-size="3.6" text-anchor="middle" fill="#3a3a3a">505</text>
<text x="72.26" y="454.96" font-size="3.6" text-anchor="middle" fill="#3a3a3a">544</text>
<text x="93.74" y="450.56" font-size="3.6" text-anchor="middle" fill="#3a3a3a">346</text>
<text x="93.74" y="454.96" font-size="3.6" text-anchor="middle" fill="#3a3a3a">316</text>
<path d="M31.00 383.50 L35.90 386.70 L41.30 390.00 L46.80 393.30 L55.50 396.50 L60.00 398.00 L65.00 399.00 L70.90 400.50 L81.80 401.80 L95.40 404.30" fill="none" stroke="#ff0000" stroke-width="2.8" stroke-linejoin="round" stroke-linecap="butt"/>
<path d="M31.00 383.50 L35.90 386.70 L41.30 390.00 L46.80 393.30 L55.50 396.50 L60.00 398.00 L65.00 399.00 L70.90 400.50 L81.80 401.80 L95.40 404.30" fill="none" stroke="#ff0000" stroke-width="3.9" stroke-dasharray="1.6 1.2" stroke-dashoffset="0" stroke-linejoin="round" stroke-linecap="butt"/>
<path d="M31.00 383.40 L35.90 385.00 L41.30 387.30 L46.80 389.40 L55.50 392.70 L60.00 394.00 L65.00 394.90 L70.90 395.60 L81.80 397.80 L95.40 401.60" fill="none" stroke="#0000ff" stroke-width="2.8" stroke-linejoin="round" stroke-linecap="butt"/>
<path d="M31.00 383.40 L35.90 385.00 L41.30 387.30 L46.80 389.40 L55.50 392.70 L60.00 394.00 L65.00 394.90 L70.90 395.60 L81.80 397.80 L95.40 401.60" fill="none" stroke="#0000ff" stroke-width="3.9" stroke-dasharray="1.6 1.2" stroke-dashoffset="1.4" stroke-linejoin="round" stroke-linecap="butt"/>
<rect x="28.70" y="381.90" width="2.6" height="3.2" fill="#0000ff"/>
<text x="31.30" y="431.60" font-size="5.15" stroke="#000" stroke-width="0.05">HR = 1.15 (0.99 – 1.33)</text>
<text x="31.30" y="437.20" font-size="5.15" stroke="#000" stroke-width="0.05"><tspan font-style="italic">p</tspan> = 0.074</text>
<text transform="translate(4.40,412.70) rotate(-90)" x="0" y="1.75" font-size="5.0" text-anchor="middle" font-weight="bold" font-style="italic">PLPP2</text>
<text transform="translate(12.00,412.70) rotate(-90)" x="0" y="1.75" font-size="5.0" text-anchor="middle" stroke="#000" stroke-width="0.05">Fraction</text>
<path d="M109.20 380.70V441.60H180.20" fill="none" stroke="#777" stroke-width="0.8"/>
<path d="M107.90 383.30H109.20M107.90 397.30H109.20M107.90 411.30H109.20M107.90 425.30H109.20M107.90 439.30H109.20M112.20 441.60V442.80M133.68 441.60V442.80M155.16 441.60V442.80M176.64 441.60V442.80" stroke="#777" stroke-width="0.6"/>
<text x="107.30" y="384.53" font-size="3.5" text-anchor="end" fill="#222" stroke="#222" stroke-width="0.07">1.00</text>
<text x="107.30" y="398.53" font-size="3.5" text-anchor="end" fill="#222" stroke="#222" stroke-width="0.07">0.75</text>
<text x="107.30" y="412.53" font-size="3.5" text-anchor="end" fill="#222" stroke="#222" stroke-width="0.07">0.50</text>
<text x="107.30" y="426.53" font-size="3.5" text-anchor="end" fill="#222" stroke="#222" stroke-width="0.07">0.25</text>
<text x="107.30" y="440.53" font-size="3.5" text-anchor="end" fill="#222" stroke="#222" stroke-width="0.07">0.00</text>
<text x="112.20" y="445.80" font-size="4.0" text-anchor="middle" fill="#3a3a3a">0</text>
<text x="133.68" y="445.80" font-size="4.0" text-anchor="middle" fill="#3a3a3a">4</text>
<text x="155.16" y="445.80" font-size="4.0" text-anchor="middle" fill="#3a3a3a">8</text>
<text x="176.64" y="445.80" font-size="4.0" text-anchor="middle" fill="#3a3a3a">12</text>
<text x="106.90" y="450.56" font-size="3.6" text-anchor="end" fill="#f33">High</text>
<text x="106.90" y="454.96" font-size="3.6" text-anchor="end" fill="#33f">Low</text>
<text x="112.20" y="450.56" font-size="3.6" text-anchor="middle" fill="#3a3a3a">951</text>
<text x="112.20" y="454.96" font-size="3.6" text-anchor="middle" fill="#3a3a3a">952</text>
<text x="133.68" y="450.56" font-size="3.6" text-anchor="middle" fill="#3a3a3a">745</text>
<text x="133.68" y="454.96" font-size="3.6" text-anchor="middle" fill="#3a3a3a">780</text>
<text x="155.16" y="450.56" font-size="3.6" text-anchor="middle" fill="#3a3a3a">547</text>
<text x="155.16" y="454.96" font-size="3.6" text-anchor="middle" fill="#3a3a3a">575</text>
<text x="176.64" y="450.56" font-size="3.6" text-anchor="middle" fill="#3a3a3a">366</text>
<text x="176.64" y="454.96" font-size="3.6" text-anchor="middle" fill="#3a3a3a">347</text>
<path d="M113.00 383.50 L116.00 383.50 L118.90 385.60 L124.30 388.40 L129.80 391.10 L135.20 393.30 L140.70 394.90 L148.00 396.50 L153.90 398.30 L164.80 401.10 L178.40 403.30" fill="none" stroke="#ff0000" stroke-width="2.8" stroke-linejoin="round" stroke-linecap="butt"/>
<path d="M113.00 383.50 L116.00 383.50 L118.90 385.60 L124.30 388.40 L129.80 391.10 L135.20 393.30 L140.70 394.90 L148.00 396.50 L153.90 398.30 L164.80 401.10 L178.40 403.30" fill="none" stroke="#ff0000" stroke-width="3.9" stroke-dasharray="1.6 1.2" stroke-dashoffset="0" stroke-linejoin="round" stroke-linecap="butt"/>
<path d="M113.00 383.50 L116.00 383.50 L118.90 384.00 L124.30 386.20 L129.80 388.40 L135.20 390.61 L140.70 391.82 L148.00 393.67 L153.90 395.59 L164.80 397.42 L178.40 400.40" fill="none" stroke="#0000ff" stroke-width="2.8" stroke-linejoin="round" stroke-linecap="butt"/>
<path d="M113.00 383.50 L116.00 383.50 L118.90 384.00 L124.30 386.20 L129.80 388.40 L135.20 390.61 L140.70 391.82 L148.00 393.67 L153.90 395.59 L164.80 397.42 L178.40 400.40" fill="none" stroke="#0000ff" stroke-width="3.9" stroke-dasharray="1.6 1.2" stroke-dashoffset="1.4" stroke-linejoin="round" stroke-linecap="butt"/>
<rect x="111.70" y="381.90" width="2.6" height="3.2" fill="#0000ff"/>
<text x="114.20" y="431.60" font-size="5.15" font-weight="bold" stroke="#000" stroke-width="0.05">HR = 1.19 (1.02 – 1.41)</text>
<text x="114.20" y="437.20" font-size="5.15" font-weight="bold" stroke="#000" stroke-width="0.05"><tspan font-style="italic">p</tspan> = 0.027</text>
<path d="M191.40 380.70V441.60H262.40" fill="none" stroke="#777" stroke-width="0.8"/>
<path d="M190.10 383.30H191.40M190.10 397.30H191.40M190.10 411.30H191.40M190.10 425.30H191.40M190.10 439.30H191.40M194.40 441.60V442.80M210.75 441.60V442.80M227.10 441.60V442.80M243.45 441.60V442.80M259.80 441.60V442.80" stroke="#777" stroke-width="0.6"/>
<text x="189.50" y="384.53" font-size="3.5" text-anchor="end" fill="#222" stroke="#222" stroke-width="0.07">1.00</text>
<text x="189.50" y="398.53" font-size="3.5" text-anchor="end" fill="#222" stroke="#222" stroke-width="0.07">0.75</text>
<text x="189.50" y="412.53" font-size="3.5" text-anchor="end" fill="#222" stroke="#222" stroke-width="0.07">0.50</text>
<text x="189.50" y="426.53" font-size="3.5" text-anchor="end" fill="#222" stroke="#222" stroke-width="0.07">0.25</text>
<text x="189.50" y="440.53" font-size="3.5" text-anchor="end" fill="#222" stroke="#222" stroke-width="0.07">0.00</text>
<text x="194.40" y="445.80" font-size="4.0" text-anchor="middle" fill="#3a3a3a">0</text>
<text x="210.75" y="445.80" font-size="4.0" text-anchor="middle" fill="#3a3a3a">5</text>
<text x="227.10" y="445.80" font-size="4.0" text-anchor="middle" fill="#3a3a3a">10</text>
<text x="243.45" y="445.80" font-size="4.0" text-anchor="middle" fill="#3a3a3a">15</text>
<text x="259.80" y="445.80" font-size="4.0" text-anchor="middle" fill="#3a3a3a">20</text>
<text x="189.10" y="450.56" font-size="3.6" text-anchor="end" fill="#f33">High</text>
<text x="189.10" y="454.96" font-size="3.6" text-anchor="end" fill="#33f">Low</text>
<text x="194.40" y="450.56" font-size="3.6" text-anchor="middle" fill="#3a3a3a">951</text>
<text x="194.40" y="454.96" font-size="3.6" text-anchor="middle" fill="#3a3a3a">952</text>
<text x="210.75" y="450.56" font-size="3.6" text-anchor="middle" fill="#3a3a3a">701</text>
<text x="210.75" y="454.96" font-size="3.6" text-anchor="middle" fill="#3a3a3a">726</text>
<text x="227.10" y="450.56" font-size="3.6" text-anchor="middle" fill="#3a3a3a">449</text>
<text x="227.10" y="454.96" font-size="3.6" text-anchor="middle" fill="#3a3a3a">455</text>
<text x="243.45" y="450.56" font-size="3.6" text-anchor="middle" fill="#3a3a3a">257</text>
<text x="243.45" y="454.96" font-size="3.6" text-anchor="middle" fill="#3a3a3a">235</text>
<text x="259.80" y="450.56" font-size="3.6" text-anchor="middle" fill="#3a3a3a">87</text>
<text x="259.80" y="454.96" font-size="3.6" text-anchor="middle" fill="#3a3a3a">68</text>
<path d="M195.40 382.90 L201.90 388.60 L207.30 393.66 L212.80 397.63 L221.50 403.30 L226.00 407.43 L236.90 414.57 L247.80 419.80 L260.90 424.50" fill="none" stroke="#ff0000" stroke-width="2.8" stroke-linejoin="round" stroke-linecap="butt"/>
<path d="M195.40 382.90 L201.90 388.60 L207.30 393.66 L212.80 397.63 L221.50 403.30 L226.00 407.43 L236.90 414.57 L247.80 419.80 L260.90 424.50" fill="none" stroke="#ff0000" stroke-width="3.9" stroke-dasharray="1.6 1.2" stroke-dashoffset="0" stroke-linejoin="round" stroke-linecap="butt"/>
<path d="M195.40 382.90 L201.90 386.40 L207.30 391.46 L212.80 394.83 L221.50 400.10 L226.00 405.13 L236.90 411.27 L247.80 417.00 L260.90 426.20" fill="none" stroke="#0000ff" stroke-width="2.8" stroke-linejoin="round" stroke-linecap="butt"/>
<path d="M195.40 382.90 L201.90 386.40 L207.30 391.46 L212.80 394.83 L221.50 400.10 L226.00 405.13 L236.90 411.27 L247.80 417.00 L260.90 426.20" fill="none" stroke="#0000ff" stroke-width="3.9" stroke-dasharray="1.6 1.2" stroke-dashoffset="1.4" stroke-linejoin="round" stroke-linecap="butt"/>
<text x="196.40" y="431.60" font-size="5.15" stroke="#000" stroke-width="0.05">HR = 1.10 (0.98 – 1.23)</text>
<text x="196.40" y="437.20" font-size="5.15" stroke="#000" stroke-width="0.05"><tspan font-style="italic">p</tspan> = 0.10</text>
<path d="M26.30 461.60V522.50H97.30" fill="none" stroke="#777" stroke-width="0.8"/>
<path d="M25.00 464.20H26.30M25.00 478.20H26.30M25.00 492.20H26.30M25.00 506.20H26.30M25.00 520.20H26.30M29.30 522.50V523.70M50.78 522.50V523.70M72.26 522.50V523.70M93.74 522.50V523.70" stroke="#777" stroke-width="0.6"/>
<text x="24.40" y="465.43" font-size="3.5" text-anchor="end" fill="#222" stroke="#222" stroke-width="0.07">1.00</text>
<text x="24.40" y="479.43" font-size="3.5" text-anchor="end" fill="#222" stroke="#222" stroke-width="0.07">0.75</text>
<text x="24.40" y="493.43" font-size="3.5" text-anchor="end" fill="#222" stroke="#222" stroke-width="0.07">0.50</text>
<text x="24.40" y="507.43" font-size="3.5" text-anchor="end" fill="#222" stroke="#222" stroke-width="0.07">0.25</text>
<text x="24.40" y="521.43" font-size="3.5" text-anchor="end" fill="#222" stroke="#222" stroke-width="0.07">0.00</text>
<text x="29.30" y="526.60" font-size="4.0" text-anchor="middle" fill="#3a3a3a">0</text>
<text x="50.78" y="526.60" font-size="4.0" text-anchor="middle" fill="#3a3a3a">4</text>
<text x="72.26" y="526.60" font-size="4.0" text-anchor="middle" fill="#3a3a3a">8</text>
<text x="93.74" y="526.60" font-size="4.0" text-anchor="middle" fill="#3a3a3a">12</text>
<text x="24.00" y="531.46" font-size="3.6" text-anchor="end" fill="#f33">High</text>
<text x="24.00" y="535.86" font-size="3.6" text-anchor="end" fill="#33f">Low</text>
<text x="29.30" y="531.46" font-size="3.6" text-anchor="middle" fill="#3a3a3a">952</text>
<text x="29.30" y="535.86" font-size="3.6" text-anchor="middle" fill="#3a3a3a">952</text>
<text x="50.78" y="531.46" font-size="3.6" text-anchor="middle" fill="#3a3a3a">700</text>
<text x="50.78" y="535.86" font-size="3.6" text-anchor="middle" fill="#3a3a3a">717</text>
<text x="72.26" y="531.46" font-size="3.6" text-anchor="middle" fill="#3a3a3a">511</text>
<text x="72.26" y="535.86" font-size="3.6" text-anchor="middle" fill="#3a3a3a">538</text>
<text x="93.74" y="531.46" font-size="3.6" text-anchor="middle" fill="#3a3a3a">336</text>
<text x="93.74" y="535.86" font-size="3.6" text-anchor="middle" fill="#3a3a3a">336</text>
<path d="M31.00 464.30 L35.90 466.60 L41.30 469.90 L46.80 472.60 L55.50 475.30 L60.00 476.10 L65.00 477.11 L70.90 477.95 L81.80 479.79 L95.40 482.30" fill="none" stroke="#ff0000" stroke-width="2.8" stroke-linejoin="round" stroke-linecap="butt"/>
<path d="M31.00 464.30 L35.90 466.60 L41.30 469.90 L46.80 472.60 L55.50 475.30 L60.00 476.10 L65.00 477.11 L70.90 477.95 L81.80 479.79 L95.40 482.30" fill="none" stroke="#ff0000" stroke-width="3.9" stroke-dasharray="1.6 1.2" stroke-dashoffset="0" stroke-linejoin="round" stroke-linecap="butt"/>
<path d="M31.00 464.40 L35.90 466.60 L41.30 469.90 L46.80 472.60 L55.50 475.50 L60.00 477.50 L65.00 478.73 L70.90 480.18 L81.80 482.65 L95.40 485.20" fill="none" stroke="#0000ff" stroke-width="2.8" stroke-linejoin="round" stroke-linecap="butt"/>
<path d="M31.00 464.40 L35.90 466.60 L41.30 469.90 L46.80 472.60 L55.50 475.50 L60.00 477.50 L65.00 478.73 L70.90 480.18 L81.80 482.65 L95.40 485.20" fill="none" stroke="#0000ff" stroke-width="3.9" stroke-dasharray="1.6 1.2" stroke-dashoffset="1.4" stroke-linejoin="round" stroke-linecap="butt"/>
<rect x="28.50" y="462.60" width="2.6" height="3.2" fill="#ff0000"/>
<text x="31.30" y="511.80" font-size="5.15" stroke="#000" stroke-width="0.05">HR = 1.03 (0.88 – 1.19)</text>
<text x="31.30" y="517.60" font-size="5.15" stroke="#000" stroke-width="0.05"><tspan font-style="italic">p</tspan> = 0.70</text>
<text transform="translate(4.40,491.60) rotate(-90)" x="0" y="1.75" font-size="5.0" text-anchor="middle" font-weight="bold" font-style="italic">PLPP3</text>
<path d="M109.20 461.60V522.50H180.20" fill="none" stroke="#777" stroke-width="0.8"/>
<path d="M107.90 464.20H109.20M107.90 478.20H109.20M107.90 492.20H109.20M107.90 506.20H109.20M107.90 520.20H109.20M112.20 522.50V523.70M133.68 522.50V523.70M155.16 522.50V523.70M176.64 522.50V523.70" stroke="#777" stroke-width="0.6"/>
<text x="107.30" y="465.43" font-size="3.5" text-anchor="end" fill="#222" stroke="#222" stroke-width="0.07">1.00</text>
<text x="107.30" y="479.43" font-size="3.5" text-anchor="end" fill="#222" stroke="#222" stroke-width="0.07">0.75</text>
<text x="107.30" y="493.43" font-size="3.5" text-anchor="end" fill="#222" stroke="#222" stroke-width="0.07">0.50</text>
<text x="107.30" y="507.43" font-size="3.5" text-anchor="end" fill="#222" stroke="#222" stroke-width="0.07">0.25</text>
<text x="107.30" y="521.43" font-size="3.5" text-anchor="end" fill="#222" stroke="#222" stroke-width="0.07">0.00</text>
<text x="112.20" y="526.60" font-size="4.0" text-anchor="middle" fill="#3a3a3a">0</text>
<text x="133.68" y="526.60" font-size="4.0" text-anchor="middle" fill="#3a3a3a">4</text>
<text x="155.16" y="526.60" font-size="4.0" text-anchor="middle" fill="#3a3a3a">8</text>
<text x="176.64" y="526.60" font-size="4.0" text-anchor="middle" fill="#3a3a3a">12</text>
<text x="106.90" y="531.46" font-size="3.6" text-anchor="end" fill="#f33">High</text>
<text x="106.90" y="535.86" font-size="3.6" text-anchor="end" fill="#33f">Low</text>
<text x="112.20" y="531.46" font-size="3.6" text-anchor="middle" fill="#3a3a3a">951</text>
<text x="112.20" y="535.86" font-size="3.6" text-anchor="middle" fill="#3a3a3a">952</text>
<text x="133.68" y="531.46" font-size="3.6" text-anchor="middle" fill="#3a3a3a">747</text>
<text x="133.68" y="535.86" font-size="3.6" text-anchor="middle" fill="#3a3a3a">778</text>
<text x="155.16" y="531.46" font-size="3.6" text-anchor="middle" fill="#3a3a3a">538</text>
<text x="155.16" y="535.86" font-size="3.6" text-anchor="middle" fill="#3a3a3a">584</text>
<text x="176.64" y="531.46" font-size="3.6" text-anchor="middle" fill="#3a3a3a">346</text>
<text x="176.64" y="535.86" font-size="3.6" text-anchor="middle" fill="#3a3a3a">367</text>
<path d="M113.00 464.20 L116.00 464.20 L118.90 465.50 L124.30 467.70 L129.80 469.90 L135.20 472.60 L140.70 474.62 L148.00 476.61 L153.90 479.16 L164.80 480.55 L178.40 482.50" fill="none" stroke="#ff0000" stroke-width="2.8" stroke-linejoin="round" stroke-linecap="butt"/>
<path d="M113.00 464.20 L116.00 464.20 L118.90 465.50 L124.30 467.70 L129.80 469.90 L135.20 472.60 L140.70 474.62 L148.00 476.61 L153.90 479.16 L164.80 480.55 L178.40 482.50" fill="none" stroke="#ff0000" stroke-width="3.9" stroke-dasharray="1.6 1.2" stroke-dashoffset="0" stroke-linejoin="round" stroke-linecap="butt"/>
<path d="M113.00 464.20 L116.00 464.20 L118.90 465.50 L124.30 467.70 L129.80 469.90 L135.20 472.60 L140.70 473.71 L143.00 474.45 L148.00 475.62 L153.90 477.92 L164.80 480.29 L178.40 483.20" fill="none" stroke="#0000ff" stroke-width="2.8" stroke-linejoin="round" stroke-linecap="butt"/>
<path d="M113.00 464.20 L116.00 464.20 L118.90 465.50 L124.30 467.70 L129.80 469.90 L135.20 472.60 L140.70 473.71 L143.00 474.45 L148.00 475.62 L153.90 477.92 L164.80 480.29 L178.40 483.20" fill="none" stroke="#0000ff" stroke-width="3.9" stroke-dasharray="1.6 1.2" stroke-dashoffset="1.4" stroke-linejoin="round" stroke-linecap="butt"/>
<rect x="111.60" y="462.60" width="2.6" height="3.2" fill="#ff0000"/>
<text x="114.20" y="511.80" font-size="5.15" stroke="#000" stroke-width="0.05">HR = 1.02 (0.87 – 1.19)</text>
<text x="114.20" y="517.60" font-size="5.15" stroke="#000" stroke-width="0.05"><tspan font-style="italic">p</tspan> = 0.81</text>
<path d="M191.40 461.60V522.50H262.40" fill="none" stroke="#777" stroke-width="0.8"/>
<path d="M190.10 464.20H191.40M190.10 478.20H191.40M190.10 492.20H191.40M190.10 506.20H191.40M190.10 520.20H191.40M194.40 522.50V523.70M210.75 522.50V523.70M227.10 522.50V523.70M243.45 522.50V523.70M259.80 522.50V523.70" stroke="#777" stroke-width="0.6"/>
<text x="189.50" y="465.43" font-size="3.5" text-anchor="end" fill="#222" stroke="#222" stroke-width="0.07">1.00</text>
<text x="189.50" y="479.43" font-size="3.5" text-anchor="end" fill="#222" stroke="#222" stroke-width="0.07">0.75</text>
<text x="189.50" y="493.43" font-size="3.5" text-anchor="end" fill="#222" stroke="#222" stroke-width="0.07">0.50</text>
<text x="189.50" y="507.43" font-size="3.5" text-anchor="end" fill="#222" stroke="#222" stroke-width="0.07">0.25</text>
<text x="189.50" y="521.43" font-size="3.5" text-anchor="end" fill="#222" stroke="#222" stroke-width="0.07">0.00</text>
<text x="194.40" y="526.60" font-size="4.0" text-anchor="middle" fill="#3a3a3a">0</text>
<text x="210.75" y="526.60" font-size="4.0" text-anchor="middle" fill="#3a3a3a">5</text>
<text x="227.10" y="526.60" font-size="4.0" text-anchor="middle" fill="#3a3a3a">10</text>
<text x="243.45" y="526.60" font-size="4.0" text-anchor="middle" fill="#3a3a3a">15</text>
<text x="259.80" y="526.60" font-size="4.0" text-anchor="middle" fill="#3a3a3a">20</text>
<text x="189.10" y="531.46" font-size="3.6" text-anchor="end" fill="#f33">High</text>
<text x="189.10" y="535.86" font-size="3.6" text-anchor="end" fill="#33f">Low</text>
<text x="194.40" y="531.46" font-size="3.6" text-anchor="middle" fill="#3a3a3a">951</text>
<text x="194.40" y="535.86" font-size="3.6" text-anchor="middle" fill="#3a3a3a">952</text>
<text x="210.75" y="531.46" font-size="3.6" text-anchor="middle" fill="#3a3a3a">698</text>
<text x="210.75" y="535.86" font-size="3.6" text-anchor="middle" fill="#3a3a3a">729</text>
<text x="227.10" y="531.46" font-size="3.6" text-anchor="middle" fill="#3a3a3a">434</text>
<text x="227.10" y="535.86" font-size="3.6" text-anchor="middle" fill="#3a3a3a">470</text>
<text x="243.45" y="531.46" font-size="3.6" text-anchor="middle" fill="#3a3a3a">239</text>
<text x="243.45" y="535.86" font-size="3.6" text-anchor="middle" fill="#3a3a3a">253</text>
<text x="259.80" y="531.46" font-size="3.6" text-anchor="middle" fill="#3a3a3a">73</text>
<text x="259.80" y="535.86" font-size="3.6" text-anchor="middle" fill="#3a3a3a">82</text>
<path d="M195.40 463.90 L201.90 468.30 L207.30 473.70 L212.80 477.00 L221.50 482.40 L226.00 485.17 L236.90 491.59 L247.80 496.30 L260.90 503.90" fill="none" stroke="#ff0000" stroke-width="2.8" stroke-linejoin="round" stroke-linecap="butt"/>
<path d="M195.40 463.90 L201.90 468.30 L207.30 473.70 L212.80 477.00 L221.50 482.40 L226.00 485.17 L236.90 491.59 L247.80 496.30 L260.90 503.90" fill="none" stroke="#ff0000" stroke-width="3.9" stroke-dasharray="1.6 1.2" stroke-dashoffset="0" stroke-linejoin="round" stroke-linecap="butt"/>
<path d="M195.40 463.90 L201.90 468.30 L207.30 473.70 L212.80 477.05 L221.50 482.94 L226.00 488.30 L236.90 495.12 L247.80 501.70 L260.90 507.70" fill="none" stroke="#0000ff" stroke-width="2.8" stroke-linejoin="round" stroke-linecap="butt"/>
<path d="M195.40 463.90 L201.90 468.30 L207.30 473.70 L212.80 477.05 L221.50 482.94 L226.00 488.30 L236.90 495.12 L247.80 501.70 L260.90 507.70" fill="none" stroke="#0000ff" stroke-width="3.9" stroke-dasharray="1.6 1.2" stroke-dashoffset="1.4" stroke-linejoin="round" stroke-linecap="butt"/>
<text x="196.40" y="511.80" font-size="5.15" font-weight="bold" stroke="#000" stroke-width="0.05">HR = 0.85 (0.76 – 0.96)</text>
<text x="196.40" y="517.60" font-size="5.15" font-weight="bold" stroke="#000" stroke-width="0.05"><tspan font-style="italic">p</tspan> = 0.0082</text>
<path d="M293.30 301.00V361.60H364.80" fill="none" stroke="#777" stroke-width="0.8"/>
<path d="M292.00 303.60H293.30M292.00 317.53H293.30M292.00 331.45H293.30M292.00 345.38H293.30M292.00 359.30H293.30M296.30 361.60V362.80M315.40 361.60V362.80M334.50 361.60V362.80M353.60 361.60V362.80" stroke="#777" stroke-width="0.6"/>
<text x="291.40" y="304.83" font-size="3.5" text-anchor="end" fill="#222" stroke="#222" stroke-width="0.07">1.00</text>
<text x="291.40" y="318.75" font-size="3.5" text-anchor="end" fill="#222" stroke="#222" stroke-width="0.07">0.75</text>
<text x="291.40" y="332.68" font-size="3.5" text-anchor="end" fill="#222" stroke="#222" stroke-width="0.07">0.50</text>
<text x="291.40" y="346.60" font-size="3.5" text-anchor="end" fill="#222" stroke="#222" stroke-width="0.07">0.25</text>
<text x="291.40" y="360.53" font-size="3.5" text-anchor="end" fill="#222" stroke="#222" stroke-width="0.07">0.00</text>
<text x="296.30" y="366.70" font-size="4.0" text-anchor="middle" fill="#3a3a3a">0</text>
<text x="315.40" y="366.70" font-size="4.0" text-anchor="middle" fill="#3a3a3a">2</text>
<text x="334.50" y="366.70" font-size="4.0" text-anchor="middle" fill="#3a3a3a">4</text>
<text x="353.60" y="366.70" font-size="4.0" text-anchor="middle" fill="#3a3a3a">6</text>
<text x="292.40" y="370.80" font-size="3.7" text-anchor="end" fill="#f33">High</text>
<text x="292.40" y="374.90" font-size="3.7" text-anchor="end" fill="#33f">Low</text>
<text x="297.30" y="370.80" font-size="3.7" text-anchor="middle" fill="#3a3a3a">1535</text>
<text x="297.30" y="374.90" font-size="3.7" text-anchor="middle" fill="#3a3a3a">1534</text>
<text x="316.40" y="370.80" font-size="3.7" text-anchor="middle" fill="#3a3a3a">1499</text>
<text x="316.40" y="374.90" font-size="3.7" text-anchor="middle" fill="#3a3a3a">1472</text>
<text x="335.50" y="370.80" font-size="3.7" text-anchor="middle" fill="#3a3a3a">949</text>
<text x="335.50" y="374.90" font-size="3.7" text-anchor="middle" fill="#3a3a3a">951</text>
<text x="354.60" y="370.80" font-size="3.7" text-anchor="middle" fill="#3a3a3a">208</text>
<text x="354.60" y="374.90" font-size="3.7" text-anchor="middle" fill="#3a3a3a">214</text>
<path d="M296.80 303.60 L318.00 305.30" fill="none" stroke="#ff0000" stroke-width="1.6" stroke-linejoin="round" stroke-linecap="butt"/>
<path d="M296.80 303.60 L318.00 305.30" fill="none" stroke="#0000ff" stroke-width="1.5" stroke-linejoin="round" stroke-linecap="butt"/>
<path d="M318.00 303.80 L333.00 305.20 L348.80 307.80 L358.60 308.50 L361.00 309.60 L361.00 312.00 L318.00 307.00Z" fill="#ff0000"/>
<path d="M318.00 305.30 L333.00 307.20 L348.80 310.20 L361.00 312.10 L361.00 315.60 L348.80 313.40 L333.00 311.10 L318.00 308.50Z" fill="#0000ff"/>
<text x="298.30" y="351.30" font-size="5.15" font-weight="bold" stroke="#000" stroke-width="0.05">HR = 0.67 (0.53 – 0.83)</text>
<text x="298.30" y="357.20" font-size="5.15" font-weight="bold" stroke="#000" stroke-width="0.05"><tspan font-style="italic">p</tspan> = 0.00034</text>
<text transform="translate(272.30,332.20) rotate(-90)" x="0" y="1.75" font-size="5.0" text-anchor="middle" font-weight="bold" font-style="italic">PLPP1</text>
<path d="M293.30 380.90V441.50H364.80" fill="none" stroke="#777" stroke-width="0.8"/>
<path d="M292.00 383.50H293.30M292.00 397.43H293.30M292.00 411.35H293.30M292.00 425.27H293.30M292.00 439.20H293.30M296.30 441.50V442.70M315.40 441.50V442.70M334.50 441.50V442.70M353.60 441.50V442.70" stroke="#777" stroke-width="0.6"/>
<text x="291.40" y="384.73" font-size="3.5" text-anchor="end" fill="#222" stroke="#222" stroke-width="0.07">1.00</text>
<text x="291.40" y="398.65" font-size="3.5" text-anchor="end" fill="#222" stroke="#222" stroke-width="0.07">0.75</text>
<text x="291.40" y="412.58" font-size="3.5" text-anchor="end" fill="#222" stroke="#222" stroke-width="0.07">0.50</text>
<text x="291.40" y="426.50" font-size="3.5" text-anchor="end" fill="#222" stroke="#222" stroke-width="0.07">0.25</text>
<text x="291.40" y="440.43" font-size="3.5" text-anchor="end" fill="#222" stroke="#222" stroke-width="0.07">0.00</text>
<text x="296.30" y="446.60" font-size="4.0" text-anchor="middle" fill="#3a3a3a">0</text>
<text x="315.40" y="446.60" font-size="4.0" text-anchor="middle" fill="#3a3a3a">2</text>
<text x="334.50" y="446.60" font-size="4.0" text-anchor="middle" fill="#3a3a3a">4</text>
<text x="353.60" y="446.60" font-size="4.0" text-anchor="middle" fill="#3a3a3a">6</text>
<text x="292.40" y="450.69" font-size="3.7" text-anchor="end" fill="#f33">High</text>
<text x="292.40" y="454.80" font-size="3.7" text-anchor="end" fill="#33f">Low</text>
<text x="297.30" y="450.69" font-size="3.7" text-anchor="middle" fill="#3a3a3a">1535</text>
<text x="297.30" y="454.80" font-size="3.7" text-anchor="middle" fill="#3a3a3a">1534</text>
<text x="316.40" y="450.69" font-size="3.7" text-anchor="middle" fill="#3a3a3a">1474</text>
<text x="316.40" y="454.80" font-size="3.7" text-anchor="middle" fill="#3a3a3a">1497</text>
<text x="335.50" y="450.69" font-size="3.7" text-anchor="middle" fill="#3a3a3a">957</text>
<text x="335.50" y="454.80" font-size="3.7" text-anchor="middle" fill="#3a3a3a">943</text>
<text x="354.60" y="450.69" font-size="3.7" text-anchor="middle" fill="#3a3a3a">223</text>
<text x="354.60" y="454.80" font-size="3.7" text-anchor="middle" fill="#3a3a3a">199</text>
<path d="M296.80 383.60 L318.00 385.80" fill="none" stroke="#ff0000" stroke-width="1.6" stroke-linejoin="round" stroke-linecap="butt"/>
<path d="M296.80 383.60 L318.00 385.80" fill="none" stroke="#0000ff" stroke-width="1.5" stroke-linejoin="round" stroke-linecap="butt"/>
<path d="M318.00 386.00 L361.00 390.00 L361.00 395.80 L359.70 394.50 L348.80 393.20 L337.90 391.30 L318.00 388.90Z" fill="#ff0000"/>
<path d="M318.00 383.80 L333.00 385.80 L348.80 388.50 L361.00 389.30 L361.00 392.90 L348.80 391.30 L333.00 389.50 L318.00 388.00Z" fill="#0000ff"/>
<text x="298.30" y="431.20" font-size="5.15" font-weight="bold" stroke="#000" stroke-width="0.05">HR = 1.32 (1.05 – 1.64)</text>
<text x="298.30" y="437.10" font-size="5.15" font-weight="bold" stroke="#000" stroke-width="0.05"><tspan font-style="italic">p</tspan> = 0.014</text>
<text transform="translate(272.30,413.80) rotate(-90)" x="0" y="1.75" font-size="5.0" text-anchor="middle" font-weight="bold" font-style="italic">PLPP2</text>
<text transform="translate(279.90,413.80) rotate(-90)" x="0" y="1.75" font-size="5.0" text-anchor="middle" stroke="#000" stroke-width="0.05">Fraction</text>
<path d="M293.30 461.60V522.20H364.80" fill="none" stroke="#777" stroke-width="0.8"/>
<path d="M292.00 464.20H293.30M292.00 478.12H293.30M292.00 492.05H293.30M292.00 505.97H293.30M292.00 519.90H293.30M296.30 522.20V523.40M315.40 522.20V523.40M334.50 522.20V523.40M353.60 522.20V523.40" stroke="#777" stroke-width="0.6"/>
<text x="291.40" y="465.43" font-size="3.5" text-anchor="end" fill="#222" stroke="#222" stroke-width="0.07">1.00</text>
<text x="291.40" y="479.35" font-size="3.5" text-anchor="end" fill="#222" stroke="#222" stroke-width="0.07">0.75</text>
<text x="291.40" y="493.27" font-size="3.5" text-anchor="end" fill="#222" stroke="#222" stroke-width="0.07">0.50</text>
<text x="291.40" y="507.20" font-size="3.5" text-anchor="end" fill="#222" stroke="#222" stroke-width="0.07">0.25</text>
<text x="291.40" y="521.12" font-size="3.5" text-anchor="end" fill="#222" stroke="#222" stroke-width="0.07">0.00</text>
<text x="296.30" y="527.30" font-size="4.0" text-anchor="middle" fill="#3a3a3a">0</text>
<text x="315.40" y="527.30" font-size="4.0" text-anchor="middle" fill="#3a3a3a">2</text>
<text x="334.50" y="527.30" font-size="4.0" text-anchor="middle" fill="#3a3a3a">4</text>
<text x="353.60" y="527.30" font-size="4.0" text-anchor="middle" fill="#3a3a3a">6</text>
<text x="292.40" y="531.39" font-size="3.7" text-anchor="end" fill="#f33">High</text>
<text x="292.40" y="535.49" font-size="3.7" text-anchor="end" fill="#33f">Low</text>
<text x="297.30" y="531.39" font-size="3.7" text-anchor="middle" fill="#3a3a3a">1535</text>
<text x="297.30" y="535.49" font-size="3.7" text-anchor="middle" fill="#3a3a3a">1534</text>
<text x="316.40" y="531.39" font-size="3.7" text-anchor="middle" fill="#3a3a3a">1501</text>
<text x="316.40" y="535.49" font-size="3.7" text-anchor="middle" fill="#3a3a3a">1470</text>
<text x="335.50" y="531.39" font-size="3.7" text-anchor="middle" fill="#3a3a3a">943</text>
<text x="335.50" y="535.49" font-size="3.7" text-anchor="middle" fill="#3a3a3a">957</text>
<text x="354.60" y="531.39" font-size="3.7" text-anchor="middle" fill="#3a3a3a">200</text>
<text x="354.60" y="535.49" font-size="3.7" text-anchor="middle" fill="#3a3a3a">222</text>
<path d="M296.80 463.80 L318.00 466.30" fill="none" stroke="#ff0000" stroke-width="1.6" stroke-linejoin="round" stroke-linecap="butt"/>
<path d="M296.80 463.80 L318.00 466.30" fill="none" stroke="#0000ff" stroke-width="1.5" stroke-linejoin="round" stroke-linecap="butt"/>
<path d="M318.00 464.10 L337.90 466.60 L359.70 469.20 L361.00 469.50 L361.00 473.00 L318.00 468.00Z" fill="#ff0000"/>
<path d="M318.00 465.70 L337.90 468.80 L359.70 471.70 L361.00 472.00 L361.00 476.60 L359.70 475.00 L348.80 473.90 L337.90 472.30 L318.00 469.00Z" fill="#0000ff"/>
<text x="298.30" y="511.90" font-size="5.15" font-weight="bold" stroke="#000" stroke-width="0.05">HR = 0.68 (0.55 – 0.85)</text>
<text x="298.30" y="517.80" font-size="5.15" font-weight="bold" stroke="#000" stroke-width="0.05"><tspan font-style="italic">p</tspan> = 0.0008</text>
<text transform="translate(272.30,493.10) rotate(-90)" x="0" y="1.75" font-size="5.0" text-anchor="middle" font-weight="bold" font-style="italic">PLPP3</text>
<text x="43.40" y="9.08" font-size="6.8" text-anchor="middle" font-weight="bold">A</text>
<rect x="175.8" y="2.3" width="22.7" height="9.1" fill="none" stroke="#000" stroke-width="0.8"/>
<text x="187.20" y="8.96" font-size="5.6" text-anchor="middle" font-weight="bold">TCGA</text>
<text x="106.50" y="19.89" font-size="5.1" text-anchor="middle" font-weight="bold">Disease-Free Survival</text>
<text x="187.90" y="19.29" font-size="5.1" text-anchor="middle" font-weight="bold">Disease-Specific Survival</text>
<text x="267.80" y="20.18" font-size="5.1" text-anchor="middle" font-weight="bold">Overall Survival</text>
<text x="192.20" y="271.62" font-size="5.2" text-anchor="middle" stroke="#000" stroke-width="0.05">Survival Time (Years)</text>
<text x="4.20" y="285.68" font-size="6.8" text-anchor="middle" font-weight="bold">B</text>
<rect x="124.7" y="278.2" width="40.0" height="9.3" fill="none" stroke="#000" stroke-width="0.8"/>
<text x="144.80" y="285.17" font-size="5.9" text-anchor="middle" font-weight="bold">METABRIC</text>
<text x="63.20" y="295.29" font-size="5.1" text-anchor="middle" font-weight="bold">Disease-Free Survival</text>
<text x="144.00" y="293.79" font-size="5.1" text-anchor="middle" font-weight="bold">Disease-Specific Survival</text>
<text x="224.40" y="295.49" font-size="5.1" text-anchor="middle" font-weight="bold">Overall Survival</text>
<text x="149.60" y="547.72" font-size="5.2" text-anchor="middle" stroke="#000" stroke-width="0.05">Survival Time (Years)</text>
<text x="269.00" y="284.98" font-size="6.8" text-anchor="middle" font-weight="bold">C</text>
<rect x="306.3" y="278.2" width="35.5" height="10.4" fill="none" stroke="#000" stroke-width="0.8"/>
<text x="324.10" y="285.63" font-size="5.8" text-anchor="middle" font-weight="bold">GSE96058</text>
<text x="325.00" y="296.15" font-size="5.0" text-anchor="middle" font-weight="bold">Overall Survival</text>
<text x="324.40" y="547.32" font-size="5.2" text-anchor="middle" stroke="#000" stroke-width="0.05">Survival Time (Years)</text>
</svg></body></html>
